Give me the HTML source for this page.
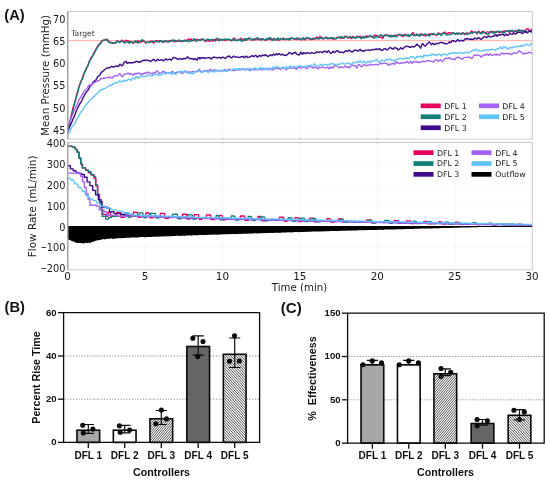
<!DOCTYPE html>
<html lang="en"><head><meta charset="utf-8"><title>Figure</title>
<style>html,body{margin:0;padding:0;background:#fff}body{width:550px;height:483px;overflow:hidden}svg{display:block}</style></head>
<body>
<svg width="550" height="483" viewBox="0 0 550 483">
<defs>
<clipPath id="ct"><rect x="67.8" y="11.5" width="465.1" height="127.5"/></clipPath>
<clipPath id="cb"><rect x="67.8" y="142.5" width="465.1" height="127.3"/></clipPath>
</defs>
<rect width="550" height="483" fill="#fff"/>
<line x1="145.2" y1="11.5" x2="145.2" y2="139.0" stroke="#f3f3f3" stroke-width="0.8"/>
<line x1="145.2" y1="142.5" x2="145.2" y2="269.8" stroke="#f3f3f3" stroke-width="0.8"/>
<line x1="222.6" y1="11.5" x2="222.6" y2="139.0" stroke="#f3f3f3" stroke-width="0.8"/>
<line x1="222.6" y1="142.5" x2="222.6" y2="269.8" stroke="#f3f3f3" stroke-width="0.8"/>
<line x1="300.0" y1="11.5" x2="300.0" y2="139.0" stroke="#f3f3f3" stroke-width="0.8"/>
<line x1="300.0" y1="142.5" x2="300.0" y2="269.8" stroke="#f3f3f3" stroke-width="0.8"/>
<line x1="377.5" y1="11.5" x2="377.5" y2="139.0" stroke="#f3f3f3" stroke-width="0.8"/>
<line x1="377.5" y1="142.5" x2="377.5" y2="269.8" stroke="#f3f3f3" stroke-width="0.8"/>
<line x1="454.9" y1="11.5" x2="454.9" y2="139.0" stroke="#f3f3f3" stroke-width="0.8"/>
<line x1="454.9" y1="142.5" x2="454.9" y2="269.8" stroke="#f3f3f3" stroke-width="0.8"/>
<line x1="67.8" y1="129.8" x2="532.3" y2="129.8" stroke="#f6f6f6" stroke-width="0.8"/>
<line x1="67.8" y1="107.5" x2="532.3" y2="107.5" stroke="#f6f6f6" stroke-width="0.8"/>
<line x1="67.8" y1="85.2" x2="532.3" y2="85.2" stroke="#f6f6f6" stroke-width="0.8"/>
<line x1="67.8" y1="62.9" x2="532.3" y2="62.9" stroke="#f6f6f6" stroke-width="0.8"/>
<line x1="67.8" y1="18.3" x2="532.3" y2="18.3" stroke="#f6f6f6" stroke-width="0.8"/>
<line x1="67.8" y1="247.3" x2="532.3" y2="247.3" stroke="#f6f6f6" stroke-width="0.8"/>
<line x1="67.8" y1="205.5" x2="532.3" y2="205.5" stroke="#f6f6f6" stroke-width="0.8"/>
<line x1="67.8" y1="184.6" x2="532.3" y2="184.6" stroke="#f6f6f6" stroke-width="0.8"/>
<line x1="67.8" y1="163.7" x2="532.3" y2="163.7" stroke="#f6f6f6" stroke-width="0.8"/>
<line x1="67.8" y1="40.6" x2="532.3" y2="40.6" stroke="#ff9c96" stroke-width="0.8"/>
<g clip-path="url(#ct)"><polyline points="67.5,131.9 68.4,127.6 69.3,124.0 70.2,120.0 71.1,116.0 72.0,112.5 72.9,108.1 73.8,105.1 74.7,102.5 75.6,98.8 76.5,95.3 77.4,92.4 78.3,89.1 79.2,86.0 80.1,83.3 81.0,81.2 81.9,79.3 82.8,76.9 83.7,74.0 84.6,72.1 85.5,70.6 86.4,68.1 87.3,66.6 88.2,64.8 89.1,61.8 90.0,59.7 90.9,57.8 91.8,56.6 92.7,55.5 93.6,53.4 94.5,52.2 95.4,50.3 96.3,48.7 97.2,47.2 98.1,45.4 99.0,44.3 99.9,43.5 100.8,43.3 101.7,41.9 102.6,40.8 103.5,40.1 104.4,39.9 105.3,39.9 106.2,39.3 107.1,39.1 108.0,40.2 108.9,42.3 109.8,42.7 110.7,42.1 111.6,43.0 112.5,43.5 113.4,42.9 114.3,43.0 115.2,42.6 116.1,42.0 117.0,41.0 117.9,41.1 118.8,41.7 119.7,42.1 120.6,41.9 121.5,40.2 122.4,40.4 123.3,42.3 124.2,42.2 125.1,40.9 126.0,40.5 126.9,40.5 127.8,41.0 128.7,41.0 129.6,41.9 130.5,42.4 131.4,41.7 132.3,42.6 133.2,43.3 134.1,42.4 135.0,41.8 135.9,42.3 136.8,42.0 137.7,40.7 138.6,41.1 139.5,42.5 140.4,42.3 141.3,41.4 142.2,41.0 143.1,41.2 144.0,41.1 144.9,42.1 145.8,43.1 146.7,42.7 147.6,42.2 148.5,42.2 149.4,41.9 150.3,41.5 151.2,41.1 152.1,41.1 153.0,42.6 153.9,43.1 154.8,41.7 155.7,41.0 156.6,40.7 157.5,41.1 158.4,41.7 159.3,40.8 160.2,40.8 161.1,41.2 162.0,41.7 162.9,42.1 163.8,42.2 164.7,41.9 165.6,40.8 166.5,41.2 167.4,41.8 168.3,42.0 169.2,40.7 170.1,40.5 171.0,41.2 171.9,40.8 172.8,40.4 173.7,41.6 174.6,41.7 175.5,40.3 176.4,40.8 177.3,41.3 178.2,40.9 179.1,41.2 180.0,41.5 180.9,41.3 181.8,41.5 182.7,41.4 183.6,40.6 184.5,40.2 185.4,40.2 186.3,40.5 187.2,40.2 188.1,39.1 189.0,39.7 189.9,39.9 190.8,38.8 191.7,39.7 192.6,40.4 193.5,40.4 194.4,40.5 195.3,39.6 196.2,39.2 197.1,39.5 198.0,40.0 198.9,39.8 199.8,39.8 200.7,39.4 201.6,39.5 202.5,39.3 203.4,39.2 204.3,40.5 205.2,41.2 206.1,41.7 207.0,40.3 207.9,39.7 208.8,41.2 209.7,41.2 210.6,40.1 211.5,39.8 212.4,41.3 213.3,40.2 214.2,39.5 215.1,40.9 216.0,40.2 216.9,39.9 217.8,39.7 218.7,39.0 219.6,39.1 220.5,39.6 221.4,40.0 222.3,40.4 223.2,39.9 224.1,39.3 225.0,40.3 225.9,40.7 226.8,39.4 227.7,39.5 228.6,39.9 229.5,39.8 230.4,40.1 231.3,40.6 232.2,40.5 233.1,38.8 234.0,38.0 234.9,39.4 235.8,40.0 236.7,40.2 237.6,40.4 238.5,39.4 239.4,39.8 240.3,39.8 241.2,38.1 242.1,39.6 243.0,39.7 243.9,38.9 244.8,40.4 245.7,40.1 246.6,38.7 247.5,39.2 248.4,39.3 249.3,38.0 250.2,38.6 251.1,39.7 252.0,40.0 252.9,40.0 253.8,39.6 254.7,39.1 255.6,38.7 256.5,38.6 257.4,39.5 258.3,39.5 259.2,39.5 260.1,39.3 261.0,38.7 261.9,39.0 262.8,39.2 263.7,39.5 264.6,39.7 265.5,40.3 266.4,40.1 267.3,39.0 268.2,38.6 269.1,38.7 270.0,39.6 270.9,39.2 271.8,38.8 272.7,39.5 273.6,39.5 274.5,38.8 275.4,39.4 276.3,39.7 277.2,39.4 278.1,39.9 279.0,40.3 279.9,39.5 280.8,38.6 281.7,38.9 282.6,39.1 283.5,38.0 284.4,38.7 285.3,39.7 286.2,39.4 287.1,38.7 288.0,39.0 288.9,39.3 289.8,38.6 290.7,38.1 291.6,38.1 292.5,38.7 293.4,38.7 294.3,39.0 295.2,39.1 296.1,39.4 297.0,39.1 297.9,38.0 298.8,38.3 299.7,39.1 300.6,39.8 301.5,39.8 302.4,38.2 303.3,38.0 304.2,39.7 305.1,39.5 306.0,38.5 306.9,38.6 307.8,38.6 308.7,38.7 309.6,39.0 310.5,39.4 311.4,39.6 312.3,38.5 313.2,38.5 314.1,39.4 315.0,38.8 315.9,38.0 316.8,37.1 317.7,37.8 318.6,38.7 319.5,37.1 320.4,36.4 321.3,37.4 322.2,38.7 323.1,38.7 324.0,38.5 324.9,38.0 325.8,37.0 326.7,38.0 327.6,38.9 328.5,38.4 329.4,38.8 330.3,38.3 331.2,37.4 332.1,38.4 333.0,39.5 333.9,39.0 334.8,38.8 335.7,38.5 336.6,37.7 337.5,37.9 338.4,36.9 339.3,37.1 340.2,38.4 341.1,38.1 342.0,37.6 342.9,38.4 343.8,37.7 344.7,36.2 345.6,36.4 346.5,36.6 347.4,37.6 348.3,38.3 349.2,37.1 350.1,36.6 351.0,38.6 351.9,38.5 352.8,36.6 353.7,37.0 354.6,37.7 355.5,37.7 356.4,36.8 357.3,36.1 358.2,36.8 359.1,37.4 360.0,36.2 360.9,36.8 361.8,38.0 362.7,37.2 363.6,36.7 364.5,36.9 365.4,36.6 366.3,35.8 367.2,36.3 368.1,36.2 369.0,36.2 369.9,36.1 370.8,35.9 371.7,36.5 372.6,37.5 373.5,36.9 374.4,35.2 375.3,35.4 376.2,35.5 377.1,35.5 378.0,36.3 378.9,37.0 379.8,37.6 380.7,36.8 381.6,37.3 382.5,38.7 383.4,37.1 384.3,34.9 385.2,34.9 386.1,36.1 387.0,34.9 387.9,34.9 388.8,35.9 389.7,35.4 390.6,35.9 391.5,36.8 392.4,36.1 393.3,35.7 394.2,35.6 395.1,35.0 396.0,35.4 396.9,36.0 397.8,35.6 398.7,34.2 399.6,34.7 400.5,35.0 401.4,34.8 402.3,36.5 403.2,36.4 404.1,34.8 405.0,34.0 405.9,35.2 406.8,35.9 407.7,35.6 408.6,36.0 409.5,35.7 410.4,35.0 411.3,34.5 412.2,33.0 413.1,32.7 414.0,34.2 414.9,34.9 415.8,35.1 416.7,35.1 417.6,35.0 418.5,35.4 419.4,34.8 420.3,34.2 421.2,33.8 422.1,34.4 423.0,35.3 423.9,35.0 424.8,35.7 425.7,36.0 426.6,35.1 427.5,35.0 428.4,34.2 429.3,34.0 430.2,34.8 431.1,33.7 432.0,34.3 432.9,34.7 433.8,34.3 434.7,34.4 435.6,34.6 436.5,35.4 437.4,34.5 438.3,32.9 439.2,33.3 440.1,34.5 441.0,34.3 441.9,33.5 442.8,33.9 443.7,32.8 444.6,32.1 445.5,32.8 446.4,33.3 447.3,33.6 448.2,32.8 449.1,33.0 450.0,32.8 450.9,32.9 451.8,33.3 452.7,33.1 453.6,33.0 454.5,33.6 455.4,33.9 456.3,33.7 457.2,34.0 458.1,33.2 459.0,33.2 459.9,33.8 460.8,33.6 461.7,33.2 462.6,32.8 463.5,33.4 464.4,34.7 465.3,33.8 466.2,32.9 467.1,33.1 468.0,33.2 468.9,33.6 469.8,33.7 470.7,32.0 471.6,31.1 472.5,32.0 473.4,32.2 474.3,32.3 475.2,32.0 476.1,32.7 477.0,34.0 477.9,32.2 478.8,31.0 479.7,32.6 480.6,32.7 481.5,32.3 482.4,31.6 483.3,31.2 484.2,32.3 485.1,33.3 486.0,32.9 486.9,31.9 487.8,31.9 488.7,32.1 489.6,32.3 490.5,32.5 491.4,31.9 492.3,31.9 493.2,31.5 494.1,31.8 495.0,33.0 495.9,31.9 496.8,31.5 497.7,31.6 498.6,31.9 499.5,32.8 500.4,32.1 501.3,32.1 502.2,32.0 503.1,31.1 504.0,31.0 504.9,31.2 505.8,31.3 506.7,31.4 507.6,31.2 508.5,31.5 509.4,32.3 510.3,31.6 511.2,30.3 512.1,30.9 513.0,32.2 513.9,31.7 514.8,30.4 515.7,30.6 516.6,32.0 517.5,30.8 518.4,30.2 519.3,31.0 520.2,30.3 521.1,30.7 522.0,30.4 522.9,30.3 523.8,31.6 524.7,31.5 525.6,30.3 526.5,29.2 527.4,29.0 528.3,28.9 529.2,30.4 530.1,31.2 531.0,29.8 531.9,29.2" fill="none" stroke="#e8005f" stroke-width="1.4" stroke-linejoin="round" /><polyline points="67.8,131.0 68.7,127.8 69.6,124.2 70.5,119.6 71.4,116.1 72.3,113.0 73.2,109.4 74.1,105.5 75.0,102.0 75.9,98.9 76.8,95.7 77.7,92.5 78.6,88.8 79.5,85.5 80.4,83.5 81.3,81.2 82.2,79.1 83.1,77.1 84.0,74.1 84.9,71.7 85.8,69.9 86.7,67.9 87.6,66.4 88.5,64.0 89.4,61.3 90.3,59.8 91.2,58.6 92.1,56.9 93.0,55.5 93.9,53.8 94.8,52.3 95.7,50.5 96.6,48.7 97.5,47.4 98.4,45.7 99.3,44.7 100.2,43.8 101.1,41.9 102.0,40.6 102.9,40.4 103.8,40.3 104.7,39.9 105.6,39.7 106.5,39.6 107.4,40.7 108.3,41.9 109.2,41.8 110.1,42.3 111.0,42.8 111.9,43.0 112.8,42.7 113.7,42.9 114.6,43.2 115.5,43.1 116.4,42.4 117.3,41.2 118.2,41.6 119.1,42.5 120.0,42.2 120.9,41.1 121.8,41.0 122.7,41.1 123.6,42.2 124.5,43.0 125.4,42.7 126.3,42.4 127.2,41.5 128.1,42.0 129.0,43.2 129.9,43.0 130.8,42.1 131.7,42.3 132.6,42.1 133.5,42.0 134.4,41.8 135.3,40.8 136.2,41.5 137.1,42.2 138.0,42.9 138.9,42.5 139.8,41.5 140.7,41.1 141.6,40.1 142.5,39.7 143.4,40.9 144.3,41.2 145.2,41.6 146.1,42.9 147.0,42.2 147.9,42.3 148.8,42.5 149.7,42.2 150.6,42.0 151.5,41.9 152.4,41.5 153.3,41.3 154.2,41.5 155.1,41.1 156.0,41.7 156.9,41.8 157.8,41.4 158.7,41.7 159.6,42.1 160.5,41.0 161.4,40.8 162.3,41.9 163.2,41.2 164.1,41.0 165.0,40.7 165.9,41.2 166.8,41.8 167.7,41.0 168.6,41.7 169.5,41.6 170.4,41.3 171.3,40.8 172.2,40.2 173.1,40.0 174.0,40.1 174.9,41.4 175.8,41.6 176.7,41.5 177.6,40.8 178.5,39.9 179.4,40.1 180.3,40.9 181.2,41.3 182.1,41.0 183.0,41.1 183.9,41.0 184.8,40.6 185.7,41.4 186.6,41.1 187.5,40.4 188.4,41.6 189.3,41.5 190.2,41.0 191.1,40.6 192.0,41.3 192.9,40.4 193.8,38.7 194.7,39.3 195.6,40.8 196.5,41.5 197.4,40.5 198.3,39.6 199.2,39.9 200.1,40.6 201.0,40.0 201.9,39.2 202.8,38.9 203.7,39.8 204.6,40.5 205.5,40.4 206.4,40.1 207.3,39.2 208.2,39.2 209.1,39.6 210.0,39.6 210.9,40.4 211.8,40.0 212.7,39.2 213.6,40.0 214.5,40.7 215.4,39.9 216.3,38.1 217.2,38.4 218.1,40.3 219.0,40.9 219.9,40.2 220.8,39.2 221.7,39.4 222.6,40.1 223.5,39.7 224.4,39.2 225.3,39.3 226.2,39.5 227.1,39.2 228.0,39.2 228.9,39.8 229.8,39.4 230.7,39.9 231.6,40.7 232.5,39.5 233.4,39.4 234.3,40.6 235.2,39.9 236.1,40.3 237.0,40.5 237.9,40.5 238.8,40.0 239.7,38.9 240.6,39.8 241.5,41.4 242.4,41.1 243.3,40.4 244.2,39.8 245.1,38.6 246.0,38.7 246.9,40.2 247.8,39.3 248.7,38.3 249.6,38.2 250.5,38.5 251.4,40.0 252.3,39.3 253.2,38.6 254.1,39.9 255.0,40.1 255.9,38.7 256.8,38.1 257.7,37.6 258.6,38.7 259.5,39.4 260.4,39.5 261.3,40.3 262.2,39.4 263.1,38.7 264.0,39.4 264.9,39.8 265.8,39.5 266.7,38.5 267.6,38.9 268.5,39.2 269.4,37.6 270.3,37.7 271.2,39.1 272.1,40.5 273.0,40.1 273.9,38.3 274.8,39.6 275.7,40.3 276.6,39.1 277.5,38.4 278.4,38.0 279.3,39.3 280.2,39.7 281.1,38.6 282.0,38.5 282.9,39.6 283.8,39.5 284.7,39.0 285.6,39.5 286.5,39.2 287.4,38.6 288.3,38.8 289.2,40.1 290.1,39.7 291.0,38.4 291.9,37.7 292.8,38.3 293.7,38.8 294.6,38.7 295.5,38.8 296.4,38.1 297.3,38.5 298.2,39.3 299.1,38.9 300.0,38.9 300.9,39.4 301.8,39.3 302.7,38.3 303.6,38.9 304.5,39.1 305.4,38.1 306.3,37.5 307.2,37.9 308.1,38.1 309.0,37.8 309.9,38.6 310.8,38.9 311.7,39.2 312.6,39.3 313.5,38.5 314.4,38.2 315.3,38.1 316.2,38.6 317.1,38.9 318.0,38.3 318.9,38.7 319.8,39.0 320.7,38.3 321.6,37.4 322.5,37.8 323.4,38.7 324.3,38.5 325.2,38.1 326.1,37.6 327.0,37.7 327.9,38.2 328.8,38.2 329.7,38.0 330.6,37.8 331.5,38.0 332.4,38.4 333.3,37.7 334.2,38.0 335.1,38.8 336.0,38.8 336.9,38.3 337.8,37.7 338.7,37.1 339.6,37.6 340.5,37.0 341.4,36.4 342.3,37.3 343.2,37.9 344.1,38.1 345.0,37.1 345.9,36.3 346.8,36.4 347.7,37.2 348.6,37.6 349.5,37.4 350.4,36.9 351.3,36.9 352.2,37.8 353.1,37.3 354.0,36.7 354.9,38.1 355.8,38.4 356.7,37.2 357.6,37.3 358.5,37.1 359.4,36.7 360.3,37.9 361.2,38.8 362.1,37.1 363.0,36.4 363.9,38.3 364.8,37.6 365.7,36.7 366.6,37.7 367.5,37.3 368.4,36.7 369.3,36.9 370.2,35.7 371.1,35.8 372.0,36.7 372.9,37.0 373.8,38.1 374.7,38.0 375.6,36.7 376.5,36.5 377.4,36.8 378.3,37.0 379.2,36.1 380.1,35.0 381.0,34.6 381.9,35.5 382.8,36.5 383.7,35.9 384.6,35.4 385.5,35.5 386.4,35.3 387.3,35.4 388.2,35.6 389.1,36.5 390.0,36.9 390.9,35.7 391.8,35.2 392.7,36.2 393.6,36.7 394.5,36.2 395.4,36.3 396.3,36.9 397.2,35.9 398.1,34.6 399.0,34.3 399.9,34.9 400.8,35.6 401.7,35.0 402.6,34.8 403.5,35.4 404.4,35.7 405.3,35.1 406.2,35.8 407.1,35.4 408.0,34.1 408.9,36.0 409.8,36.4 410.7,34.7 411.6,34.5 412.5,34.7 413.4,35.4 414.3,35.9 415.2,35.7 416.1,35.1 417.0,34.0 417.9,34.3 418.8,35.9 419.7,36.2 420.6,35.3 421.5,35.1 422.4,35.0 423.3,34.5 424.2,34.0 425.1,33.9 426.0,34.6 426.9,34.6 427.8,34.9 428.7,35.9 429.6,36.2 430.5,35.0 431.4,33.9 432.3,33.7 433.2,33.5 434.1,33.8 435.0,34.5 435.9,34.6 436.8,34.4 437.7,34.4 438.6,34.2 439.5,33.7 440.4,34.6 441.3,35.5 442.2,34.1 443.1,33.0 444.0,33.2 444.9,33.6 445.8,34.6 446.7,35.0 447.6,34.9 448.5,34.9 449.4,34.9 450.3,34.7 451.2,34.3 452.1,33.8 453.0,32.6 453.9,32.6 454.8,34.4 455.7,34.2 456.6,32.9 457.5,33.6 458.4,34.0 459.3,33.2 460.2,33.9 461.1,34.4 462.0,34.0 462.9,33.3 463.8,33.2 464.7,33.6 465.6,33.7 466.5,34.1 467.4,34.3 468.3,33.7 469.2,33.4 470.1,32.7 471.0,32.7 471.9,33.6 472.8,33.0 473.7,32.2 474.6,32.3 475.5,32.1 476.4,32.3 477.3,33.0 478.2,32.3 479.1,32.1 480.0,33.2 480.9,33.7 481.8,33.6 482.7,32.9 483.6,32.2 484.5,32.0 485.4,32.5 486.3,33.9 487.2,34.3 488.1,33.8 489.0,33.8 489.9,32.1 490.8,31.2 491.7,31.8 492.6,32.5 493.5,33.6 494.4,32.6 495.3,31.7 496.2,32.3 497.1,31.9 498.0,31.3 498.9,31.2 499.8,31.9 500.7,31.8 501.6,31.8 502.5,32.3 503.4,32.1 504.3,32.8 505.2,32.0 506.1,30.8 507.0,31.3 507.9,31.1 508.8,30.5 509.7,30.9 510.6,31.4 511.5,30.7 512.4,30.4 513.3,31.3 514.2,32.2 515.1,30.8 516.0,30.8 516.9,32.2 517.8,30.9 518.7,29.6 519.6,30.4 520.5,30.9 521.4,30.7 522.3,31.3 523.2,31.0 524.1,30.6 525.0,31.0 525.9,31.4 526.8,32.0 527.7,32.4 528.6,31.6 529.5,30.5 530.4,31.6 531.3,32.0 532.2,31.0" fill="none" stroke="#0f7f7a" stroke-width="1.4" stroke-linejoin="round" /><polyline points="67.8,131.6 68.7,129.2 69.6,127.0 70.5,124.9 71.4,123.2 72.3,120.9 73.2,118.6 74.1,116.9 75.0,114.6 75.9,112.1 76.8,110.1 77.7,107.9 78.6,106.2 79.5,104.4 80.4,102.8 81.3,101.7 82.2,99.5 83.1,97.6 84.0,96.2 84.9,94.3 85.8,92.9 86.7,91.7 87.6,90.6 88.5,89.5 89.4,87.5 90.3,85.7 91.2,85.0 92.1,84.4 93.0,82.5 93.9,81.4 94.8,81.0 95.7,80.0 96.6,78.8 97.5,77.1 98.4,76.2 99.3,75.7 100.2,74.6 101.1,72.6 102.0,71.8 102.9,71.4 103.8,70.3 104.7,69.8 105.6,69.0 106.5,68.3 107.4,68.0 108.3,67.8 109.2,67.8 110.1,67.6 111.0,66.6 111.9,66.3 112.8,67.0 113.7,67.1 114.6,66.4 115.5,66.1 116.4,66.2 117.3,66.3 118.2,66.5 119.1,65.5 120.0,64.2 120.9,64.9 121.8,65.7 122.7,65.5 123.6,63.3 124.5,62.2 125.4,61.5 126.3,61.8 127.2,63.4 128.1,62.8 129.0,62.5 129.9,63.0 130.8,62.8 131.7,62.6 132.6,62.9 133.5,62.5 134.4,62.3 135.3,62.1 136.2,61.2 137.1,61.4 138.0,62.3 138.9,61.8 139.8,61.7 140.7,62.2 141.6,61.0 142.5,60.4 143.4,60.7 144.3,60.2 145.2,60.5 146.1,60.4 147.0,59.9 147.9,60.4 148.8,60.7 149.7,60.6 150.6,61.5 151.5,61.0 152.4,59.9 153.3,59.5 154.2,59.5 155.1,60.8 156.0,61.1 156.9,60.1 157.8,59.3 158.7,60.3 159.6,60.4 160.5,60.2 161.4,59.7 162.3,59.9 163.2,60.9 164.1,60.4 165.0,59.4 165.9,59.0 166.8,59.5 167.7,59.7 168.6,59.5 169.5,59.2 170.4,59.4 171.3,60.2 172.2,59.0 173.1,57.5 174.0,57.7 174.9,58.1 175.8,57.9 176.7,58.5 177.6,59.5 178.5,59.0 179.4,58.6 180.3,58.8 181.2,59.2 182.1,59.2 183.0,58.7 183.9,58.8 184.8,58.4 185.7,58.7 186.6,57.8 187.5,56.8 188.4,57.8 189.3,58.5 190.2,58.3 191.1,58.8 192.0,58.7 192.9,58.8 193.8,59.8 194.7,58.7 195.6,58.7 196.5,59.8 197.4,60.0 198.3,57.6 199.2,57.7 200.1,59.0 201.0,57.5 201.9,57.8 202.8,58.0 203.7,57.6 204.6,58.4 205.5,57.9 206.4,58.1 207.3,57.9 208.2,57.6 209.1,57.8 210.0,57.6 210.9,58.9 211.8,59.0 212.7,57.4 213.6,57.2 214.5,57.3 215.4,57.4 216.3,57.8 217.2,57.8 218.1,57.7 219.0,57.4 219.9,57.5 220.8,58.3 221.7,57.7 222.6,57.1 223.5,57.4 224.4,58.0 225.3,58.5 226.2,57.5 227.1,56.9 228.0,56.4 228.9,55.9 229.8,56.6 230.7,57.4 231.6,57.9 232.5,57.3 233.4,56.1 234.3,56.4 235.2,57.0 236.1,57.0 237.0,57.1 237.9,57.2 238.8,57.4 239.7,57.5 240.6,56.8 241.5,56.9 242.4,56.8 243.3,56.3 244.2,57.5 245.1,57.6 246.0,56.0 246.9,56.5 247.8,57.6 248.7,57.4 249.6,56.9 250.5,56.5 251.4,56.2 252.3,55.6 253.2,56.5 254.1,56.6 255.0,55.5 255.9,55.4 256.8,56.6 257.7,57.2 258.6,56.0 259.5,55.5 260.4,55.9 261.3,56.3 262.2,55.2 263.1,55.1 264.0,55.8 264.9,55.0 265.8,54.8 266.7,55.5 267.6,56.6 268.5,56.2 269.4,55.6 270.3,55.0 271.2,54.9 272.1,55.7 273.0,54.7 273.9,53.9 274.8,55.1 275.7,54.4 276.6,53.7 277.5,54.9 278.4,54.2 279.3,53.6 280.2,54.5 281.1,55.1 282.0,54.3 282.9,54.4 283.8,55.2 284.7,55.2 285.6,55.6 286.5,55.1 287.4,54.7 288.3,53.6 289.2,52.5 290.1,52.9 291.0,53.4 291.9,54.3 292.8,53.5 293.7,52.8 294.6,53.0 295.5,52.3 296.4,53.7 297.3,54.6 298.2,54.6 299.1,55.1 300.0,53.7 300.9,52.1 301.8,53.6 302.7,54.3 303.6,52.6 304.5,53.1 305.4,53.7 306.3,52.9 307.2,52.6 308.1,53.0 309.0,53.1 309.9,53.4 310.8,53.1 311.7,52.5 312.6,52.9 313.5,53.2 314.4,53.4 315.3,53.0 316.2,52.4 317.1,51.8 318.0,52.6 318.9,52.4 319.8,51.7 320.7,51.9 321.6,52.0 322.5,52.8 323.4,51.7 324.3,51.2 325.2,51.1 326.1,51.9 327.0,52.6 327.9,51.0 328.8,50.8 329.7,52.3 330.6,53.4 331.5,53.3 332.4,52.1 333.3,51.3 334.2,52.6 335.1,52.2 336.0,51.2 336.9,51.0 337.8,50.6 338.7,51.7 339.6,52.6 340.5,52.1 341.4,52.1 342.3,52.3 343.2,52.8 344.1,52.2 345.0,51.2 345.9,50.6 346.8,51.4 347.7,51.6 348.6,50.2 349.5,50.3 350.4,51.1 351.3,51.6 352.2,52.1 353.1,51.2 354.0,50.2 354.9,50.4 355.8,50.2 356.7,50.2 357.6,51.1 358.5,51.1 359.4,50.0 360.3,49.3 361.2,50.8 362.1,50.9 363.0,50.5 363.9,51.4 364.8,50.8 365.7,49.9 366.6,50.1 367.5,50.1 368.4,49.9 369.3,50.4 370.2,50.1 371.1,49.9 372.0,50.0 372.9,49.5 373.8,49.5 374.7,49.8 375.6,48.9 376.5,48.9 377.4,49.6 378.3,49.4 379.2,48.4 380.1,49.0 381.0,50.4 381.9,50.3 382.8,50.0 383.7,48.9 384.6,48.7 385.5,48.8 386.4,49.8 387.3,49.9 388.2,49.0 389.1,48.4 390.0,47.4 390.9,47.8 391.8,48.7 392.7,49.2 393.6,48.9 394.5,47.5 395.4,47.9 396.3,48.3 397.2,48.5 398.1,49.9 399.0,49.4 399.9,48.8 400.8,47.6 401.7,48.4 402.6,49.1 403.5,48.1 404.4,47.4 405.3,46.7 406.2,46.4 407.1,46.1 408.0,46.6 408.9,46.7 409.8,47.3 410.7,47.3 411.6,46.6 412.5,46.3 413.4,47.1 414.3,46.7 415.2,46.1 416.1,45.3 417.0,44.1 417.9,45.3 418.8,45.6 419.7,46.8 420.6,48.2 421.5,45.7 422.4,43.7 423.3,44.3 424.2,45.7 425.1,46.2 426.0,45.4 426.9,44.0 427.8,43.3 428.7,42.5 429.6,42.0 430.5,43.6 431.4,44.7 432.3,43.6 433.2,43.2 434.1,44.6 435.0,44.5 435.9,43.4 436.8,43.5 437.7,43.8 438.6,43.4 439.5,42.8 440.4,42.4 441.3,42.6 442.2,42.4 443.1,42.9 444.0,43.6 444.9,43.3 445.8,43.8 446.7,44.0 447.6,43.5 448.5,42.8 449.4,41.8 450.3,42.7 451.2,42.3 452.1,40.7 453.0,40.5 453.9,40.8 454.8,41.4 455.7,41.7 456.6,41.2 457.5,39.7 458.4,39.9 459.3,41.2 460.2,40.9 461.1,40.2 462.0,40.4 462.9,41.1 463.8,40.7 464.7,39.1 465.6,38.7 466.5,39.2 467.4,38.5 468.3,38.9 469.2,39.3 470.1,39.1 471.0,39.5 471.9,38.9 472.8,39.6 473.7,39.3 474.6,38.0 475.5,38.3 476.4,39.0 477.3,38.8 478.2,37.7 479.1,38.0 480.0,38.7 480.9,39.3 481.8,38.8 482.7,37.7 483.6,37.4 484.5,36.4 485.4,36.6 486.3,37.7 487.2,37.1 488.1,36.2 489.0,36.0 489.9,36.9 490.8,37.1 491.7,36.6 492.6,36.4 493.5,36.0 494.4,36.0 495.3,34.6 496.2,34.9 497.1,36.3 498.0,35.0 498.9,34.6 499.8,35.3 500.7,34.7 501.6,34.7 502.5,34.2 503.4,34.3 504.3,35.8 505.2,34.9 506.1,34.1 507.0,35.4 507.9,35.4 508.8,34.3 509.7,33.6 510.6,33.9 511.5,34.1 512.4,34.3 513.3,33.4 514.2,33.5 515.1,34.0 516.0,33.7 516.9,33.4 517.8,32.2 518.7,32.2 519.6,32.3 520.5,32.2 521.4,32.9 522.3,33.6 523.2,33.2 524.1,32.2 525.0,31.7 525.9,32.2 526.8,32.9 527.7,32.3 528.6,31.5 529.5,31.1 530.4,31.2 531.3,31.9 532.2,30.2" fill="none" stroke="#3f0a8c" stroke-width="1.4" stroke-linejoin="round" /><polyline points="67.8,126.7 68.7,124.5 69.6,122.6 70.5,120.1 71.4,117.3 72.3,115.3 73.2,113.2 74.1,110.4 75.0,108.8 75.9,107.1 76.8,105.0 77.7,103.1 78.6,100.3 79.5,98.8 80.4,97.8 81.3,96.0 82.2,94.9 83.1,93.2 84.0,91.6 84.9,90.6 85.8,89.6 86.7,88.6 87.6,87.3 88.5,85.9 89.4,85.2 90.3,84.7 91.2,85.4 92.1,84.8 93.0,83.2 93.9,82.6 94.8,82.4 95.7,82.1 96.6,81.0 97.5,80.7 98.4,80.7 99.3,80.3 100.2,79.4 101.1,78.3 102.0,78.7 102.9,78.4 103.8,78.0 104.7,78.4 105.6,78.1 106.5,77.9 107.4,77.7 108.3,77.5 109.2,77.1 110.1,76.8 111.0,77.9 111.9,78.2 112.8,77.2 113.7,76.7 114.6,76.0 115.5,75.7 116.4,75.8 117.3,75.9 118.2,75.4 119.1,73.7 120.0,73.7 120.9,75.1 121.8,76.5 122.7,76.6 123.6,74.8 124.5,74.1 125.4,74.0 126.3,73.9 127.2,73.8 128.1,73.0 129.0,73.5 129.9,74.4 130.8,74.0 131.7,74.0 132.6,75.1 133.5,75.0 134.4,73.7 135.3,74.1 136.2,73.4 137.1,73.3 138.0,73.7 138.9,72.9 139.8,73.3 140.7,74.5 141.6,74.1 142.5,73.7 143.4,74.2 144.3,73.0 145.2,73.2 146.1,73.5 147.0,72.2 147.9,72.2 148.8,72.6 149.7,73.2 150.6,73.2 151.5,73.6 152.4,74.0 153.3,72.9 154.2,72.3 155.1,72.8 156.0,72.1 156.9,70.9 157.8,71.4 158.7,72.8 159.6,73.3 160.5,72.9 161.4,72.7 162.3,71.6 163.2,71.5 164.1,71.6 165.0,72.2 165.9,73.0 166.8,72.5 167.7,72.7 168.6,72.9 169.5,72.7 170.4,72.7 171.3,72.3 172.2,71.4 173.1,71.8 174.0,73.2 174.9,73.5 175.8,72.6 176.7,72.4 177.6,72.2 178.5,72.1 179.4,72.0 180.3,71.8 181.2,73.1 182.1,73.4 183.0,73.1 183.9,72.3 184.8,71.2 185.7,71.5 186.6,72.1 187.5,72.0 188.4,72.2 189.3,72.0 190.2,72.1 191.1,72.8 192.0,71.6 192.9,71.3 193.8,71.8 194.7,71.9 195.6,71.8 196.5,71.4 197.4,71.9 198.3,70.3 199.2,69.1 200.1,70.5 201.0,71.3 201.9,71.7 202.8,71.9 203.7,70.7 204.6,70.7 205.5,71.0 206.4,70.6 207.3,70.7 208.2,71.0 209.1,70.5 210.0,69.7 210.9,69.3 211.8,70.9 212.7,71.5 213.6,70.0 214.5,69.9 215.4,69.9 216.3,70.3 217.2,70.9 218.1,71.2 219.0,71.0 219.9,70.6 220.8,70.3 221.7,71.2 222.6,71.2 223.5,70.7 224.4,69.7 225.3,69.8 226.2,70.9 227.1,71.3 228.0,69.7 228.9,69.1 229.8,70.4 230.7,70.4 231.6,70.1 232.5,70.1 233.4,70.7 234.3,70.6 235.2,70.1 236.1,69.9 237.0,69.9 237.9,70.0 238.8,69.8 239.7,68.7 240.6,69.7 241.5,69.8 242.4,69.1 243.3,69.3 244.2,69.2 245.1,69.3 246.0,69.4 246.9,69.4 247.8,68.8 248.7,69.3 249.6,70.6 250.5,70.6 251.4,69.9 252.3,69.2 253.2,69.1 254.1,69.8 255.0,69.5 255.9,69.7 256.8,69.9 257.7,69.6 258.6,69.4 259.5,68.9 260.4,69.3 261.3,69.7 262.2,69.7 263.1,69.0 264.0,68.4 264.9,68.8 265.8,68.2 266.7,68.7 267.6,69.8 268.5,69.3 269.4,68.7 270.3,69.1 271.2,69.3 272.1,69.8 273.0,70.1 273.9,68.3 274.8,68.5 275.7,68.9 276.6,68.3 277.5,68.4 278.4,68.5 279.3,68.8 280.2,69.2 281.1,69.2 282.0,68.5 282.9,67.5 283.8,67.4 284.7,68.3 285.6,69.1 286.5,69.8 287.4,68.6 288.3,67.7 289.2,68.3 290.1,68.0 291.0,68.1 291.9,68.2 292.8,67.9 293.7,67.7 294.6,68.0 295.5,68.8 296.4,69.4 297.3,68.6 298.2,67.2 299.1,67.3 300.0,67.4 300.9,68.0 301.8,68.0 302.7,67.5 303.6,67.2 304.5,67.0 305.4,67.8 306.3,68.7 307.2,68.2 308.1,67.6 309.0,66.9 309.9,66.1 310.8,66.7 311.7,67.0 312.6,67.7 313.5,68.2 314.4,67.2 315.3,67.1 316.2,67.3 317.1,68.0 318.0,68.7 318.9,67.8 319.8,67.5 320.7,67.4 321.6,67.5 322.5,67.1 323.4,67.4 324.3,67.9 325.2,67.9 326.1,67.7 327.0,67.6 327.9,67.2 328.8,68.6 329.7,68.6 330.6,66.6 331.5,67.4 332.4,68.2 333.3,67.3 334.2,65.8 335.1,65.5 336.0,65.8 336.9,66.1 337.8,66.4 338.7,67.3 339.6,67.9 340.5,67.0 341.4,66.7 342.3,67.4 343.2,67.8 344.1,67.2 345.0,66.0 345.9,66.4 346.8,67.5 347.7,66.8 348.6,66.9 349.5,68.0 350.4,66.8 351.3,65.1 352.2,64.9 353.1,65.5 354.0,66.0 354.9,65.3 355.8,66.2 356.7,68.1 357.6,66.5 358.5,64.4 359.4,64.6 360.3,65.7 361.2,66.4 362.1,66.5 363.0,65.7 363.9,64.3 364.8,64.6 365.7,65.9 366.6,65.5 367.5,65.1 368.4,65.3 369.3,65.0 370.2,64.3 371.1,64.5 372.0,64.4 372.9,64.8 373.8,65.0 374.7,64.5 375.6,64.6 376.5,64.5 377.4,64.7 378.3,64.7 379.2,64.3 380.1,63.2 381.0,63.4 381.9,64.0 382.8,63.3 383.7,63.1 384.6,62.9 385.5,63.3 386.4,63.9 387.3,63.7 388.2,65.2 389.1,65.2 390.0,64.0 390.9,64.2 391.8,63.9 392.7,63.2 393.6,63.7 394.5,64.4 395.4,62.5 396.3,61.8 397.2,63.0 398.1,62.8 399.0,63.5 399.9,63.5 400.8,63.2 401.7,63.1 402.6,62.5 403.5,63.0 404.4,62.8 405.3,62.3 406.2,62.0 407.1,61.6 408.0,62.5 408.9,63.1 409.8,62.1 410.7,61.2 411.6,63.0 412.5,63.2 413.4,61.4 414.3,61.9 415.2,61.9 416.1,61.4 417.0,62.1 417.9,62.8 418.8,62.1 419.7,62.2 420.6,62.2 421.5,61.4 422.4,61.4 423.3,61.3 424.2,61.5 425.1,61.7 426.0,61.0 426.9,60.8 427.8,60.9 428.7,60.5 429.6,60.6 430.5,61.3 431.4,61.4 432.3,61.5 433.2,62.0 434.1,61.3 435.0,60.1 435.9,59.7 436.8,60.0 437.7,60.8 438.6,61.3 439.5,60.1 440.4,59.7 441.3,60.8 442.2,61.5 443.1,61.0 444.0,59.7 444.9,58.7 445.8,58.3 446.7,58.4 447.6,58.2 448.5,58.2 449.4,57.8 450.3,58.2 451.2,59.0 452.1,59.4 453.0,59.1 453.9,59.1 454.8,59.6 455.7,58.2 456.6,57.5 457.5,57.5 458.4,57.1 459.3,57.7 460.2,58.0 461.1,58.6 462.0,59.6 462.9,58.9 463.8,57.7 464.7,57.4 465.6,57.4 466.5,57.6 467.4,57.2 468.3,57.1 469.2,57.2 470.1,57.4 471.0,58.1 471.9,58.3 472.8,57.5 473.7,55.8 474.6,55.0 475.5,55.4 476.4,55.5 477.3,54.7 478.2,55.1 479.1,55.4 480.0,55.8 480.9,57.2 481.8,56.7 482.7,55.8 483.6,55.0 484.5,54.9 485.4,55.3 486.3,54.6 487.2,53.9 488.1,55.2 489.0,55.3 489.9,53.8 490.8,54.5 491.7,55.2 492.6,55.3 493.5,55.1 494.4,54.5 495.3,54.7 496.2,55.2 497.1,54.0 498.0,54.7 498.9,55.1 499.8,54.8 500.7,54.1 501.6,53.0 502.5,53.4 503.4,53.5 504.3,54.2 505.2,53.7 506.1,53.2 507.0,53.4 507.9,53.5 508.8,54.1 509.7,53.5 510.6,54.4 511.5,54.6 512.4,53.9 513.3,53.2 514.2,52.5 515.1,53.2 516.0,53.2 516.9,52.9 517.8,52.4 518.7,50.9 519.6,51.0 520.5,52.0 521.4,52.1 522.3,53.0 523.2,54.2 524.1,54.0 525.0,53.3 525.9,53.3 526.8,53.2 527.7,53.1 528.6,52.6 529.5,52.1 530.4,52.3 531.3,53.4 532.2,53.6" fill="none" stroke="#a561f6" stroke-width="1.38" stroke-linejoin="round" /><polyline points="67.8,133.9 68.7,133.7 69.6,132.3 70.5,130.3 71.4,128.1 72.3,126.4 73.2,125.3 74.1,125.0 75.0,123.5 75.9,120.9 76.8,119.3 77.7,117.9 78.6,116.3 79.5,114.7 80.4,112.8 81.3,111.4 82.2,110.5 83.1,109.3 84.0,108.0 84.9,106.2 85.8,105.1 86.7,104.3 87.6,103.0 88.5,102.3 89.4,101.1 90.3,99.8 91.2,99.1 92.1,98.3 93.0,97.4 93.9,96.7 94.8,95.7 95.7,94.3 96.6,94.1 97.5,93.5 98.4,92.3 99.3,91.5 100.2,90.1 101.1,89.5 102.0,89.5 102.9,89.3 103.8,88.8 104.7,88.4 105.6,88.2 106.5,87.8 107.4,87.0 108.3,86.3 109.2,85.8 110.1,85.1 111.0,85.4 111.9,84.9 112.8,83.9 113.7,84.1 114.6,82.9 115.5,82.7 116.4,83.1 117.3,82.5 118.2,82.2 119.1,81.0 120.0,81.0 120.9,81.6 121.8,81.8 122.7,81.7 123.6,80.1 124.5,80.2 125.4,81.2 126.3,80.8 127.2,80.5 128.1,79.5 129.0,79.3 129.9,79.2 130.8,80.2 131.7,80.1 132.6,77.9 133.5,77.7 134.4,78.8 135.3,78.5 136.2,76.3 137.1,77.2 138.0,78.4 138.9,77.2 139.8,77.2 140.7,76.8 141.6,75.7 142.5,76.5 143.4,76.7 144.3,76.3 145.2,76.5 146.1,76.5 147.0,76.4 147.9,74.8 148.8,75.0 149.7,75.6 150.6,75.6 151.5,75.7 152.4,75.9 153.3,75.6 154.2,73.8 155.1,73.7 156.0,74.9 156.9,74.8 157.8,74.3 158.7,75.1 159.6,75.2 160.5,74.9 161.4,75.0 162.3,73.6 163.2,73.0 164.1,73.5 165.0,74.1 165.9,73.7 166.8,72.8 167.7,72.6 168.6,73.0 169.5,73.0 170.4,72.9 171.3,74.2 172.2,74.5 173.1,73.1 174.0,72.9 174.9,74.0 175.8,74.3 176.7,73.4 177.6,72.3 178.5,71.4 179.4,71.9 180.3,72.6 181.2,71.9 182.1,71.3 183.0,72.0 183.9,71.5 184.8,70.6 185.7,71.6 186.6,72.7 187.5,72.8 188.4,73.0 189.3,73.6 190.2,73.4 191.1,72.5 192.0,73.0 192.9,73.9 193.8,73.3 194.7,72.0 195.6,71.7 196.5,71.0 197.4,70.5 198.3,70.3 199.2,70.2 200.1,71.9 201.0,72.1 201.9,72.3 202.8,72.2 203.7,71.4 204.6,71.2 205.5,71.4 206.4,71.5 207.3,71.8 208.2,72.6 209.1,72.1 210.0,70.7 210.9,70.7 211.8,71.9 212.7,71.9 213.6,71.4 214.5,71.5 215.4,71.9 216.3,70.1 217.2,70.2 218.1,71.8 219.0,71.3 219.9,70.6 220.8,70.4 221.7,70.9 222.6,70.1 223.5,70.1 224.4,70.8 225.3,71.1 226.2,71.4 227.1,70.5 228.0,70.2 228.9,70.6 229.8,70.6 230.7,70.5 231.6,70.0 232.5,69.1 233.4,69.1 234.3,69.0 235.2,68.8 236.1,69.7 237.0,69.2 237.9,68.4 238.8,69.5 239.7,69.8 240.6,69.4 241.5,69.0 242.4,68.5 243.3,68.9 244.2,70.2 245.1,70.5 246.0,68.8 246.9,68.8 247.8,70.0 248.7,70.1 249.6,69.0 250.5,68.6 251.4,70.2 252.3,69.7 253.2,68.8 254.1,68.8 255.0,68.0 255.9,68.1 256.8,69.2 257.7,69.9 258.6,68.9 259.5,68.1 260.4,68.0 261.3,67.1 262.2,67.8 263.1,69.6 264.0,70.0 264.9,68.9 265.8,68.8 266.7,69.5 267.6,68.7 268.5,68.1 269.4,68.0 270.3,68.1 271.2,69.1 272.1,68.5 273.0,66.9 273.9,67.8 274.8,68.3 275.7,66.9 276.6,66.3 277.5,66.8 278.4,67.0 279.3,67.5 280.2,68.2 281.1,67.9 282.0,67.5 282.9,67.1 283.8,67.5 284.7,68.5 285.6,67.8 286.5,66.7 287.4,67.8 288.3,68.6 289.2,67.1 290.1,65.7 291.0,66.0 291.9,67.4 292.8,67.2 293.7,66.4 294.6,66.4 295.5,66.8 296.4,67.7 297.3,66.7 298.2,65.8 299.1,66.3 300.0,66.1 300.9,65.5 301.8,66.2 302.7,66.8 303.6,66.7 304.5,67.3 305.4,66.7 306.3,66.1 307.2,66.0 308.1,65.7 309.0,66.0 309.9,65.9 310.8,64.9 311.7,65.7 312.6,66.4 313.5,65.0 314.4,63.8 315.3,64.3 316.2,65.7 317.1,66.1 318.0,66.3 318.9,65.5 319.8,65.2 320.7,64.6 321.6,64.3 322.5,65.5 323.4,65.0 324.3,64.4 325.2,64.7 326.1,64.8 327.0,65.5 327.9,64.8 328.8,64.7 329.7,64.6 330.6,63.5 331.5,63.7 332.4,63.9 333.3,64.0 334.2,64.2 335.1,64.4 336.0,65.2 336.9,65.4 337.8,64.1 338.7,64.0 339.6,64.4 340.5,64.1 341.4,63.1 342.3,62.7 343.2,63.3 344.1,64.1 345.0,64.1 345.9,63.6 346.8,63.6 347.7,63.3 348.6,63.1 349.5,64.0 350.4,64.3 351.3,64.2 352.2,63.4 353.1,62.8 354.0,62.4 354.9,62.7 355.8,62.9 356.7,61.7 357.6,61.6 358.5,62.3 359.4,61.4 360.3,60.4 361.2,62.0 362.1,62.7 363.0,62.1 363.9,61.1 364.8,61.9 365.7,63.1 366.6,62.6 367.5,61.5 368.4,61.3 369.3,62.4 370.2,61.9 371.1,61.1 372.0,61.0 372.9,61.3 373.8,61.4 374.7,60.8 375.6,60.1 376.5,59.4 377.4,60.5 378.3,62.0 379.2,61.9 380.1,61.7 381.0,61.0 381.9,60.1 382.8,60.5 383.7,60.4 384.6,60.9 385.5,60.3 386.4,59.1 387.3,59.5 388.2,59.3 389.1,59.8 390.0,59.1 390.9,59.2 391.8,60.5 392.7,60.0 393.6,60.2 394.5,61.1 395.4,60.4 396.3,59.5 397.2,59.6 398.1,59.4 399.0,58.8 399.9,58.1 400.8,58.6 401.7,58.6 402.6,58.7 403.5,59.3 404.4,58.5 405.3,58.2 406.2,58.4 407.1,58.0 408.0,58.4 408.9,58.4 409.8,57.9 410.7,56.8 411.6,56.9 412.5,57.1 413.4,56.5 414.3,57.9 415.2,58.9 416.1,57.8 417.0,56.2 417.9,56.5 418.8,56.9 419.7,56.7 420.6,56.2 421.5,56.5 422.4,57.8 423.3,56.4 424.2,55.2 425.1,55.5 426.0,56.1 426.9,55.4 427.8,55.1 428.7,55.8 429.6,55.2 430.5,55.6 431.4,54.9 432.3,53.8 433.2,54.3 434.1,55.2 435.0,55.4 435.9,54.5 436.8,54.8 437.7,54.9 438.6,54.3 439.5,54.2 440.4,54.6 441.3,56.1 442.2,55.2 443.1,53.9 444.0,54.3 444.9,54.0 445.8,54.7 446.7,55.1 447.6,54.6 448.5,53.9 449.4,53.1 450.3,53.3 451.2,53.5 452.1,53.0 453.0,53.4 453.9,53.0 454.8,52.2 455.7,53.1 456.6,53.3 457.5,53.2 458.4,52.7 459.3,52.6 460.2,52.6 461.1,52.8 462.0,53.5 462.9,52.9 463.8,53.2 464.7,53.1 465.6,51.9 466.5,52.4 467.4,52.8 468.3,52.5 469.2,52.4 470.1,52.2 471.0,51.6 471.9,50.3 472.8,50.0 473.7,50.9 474.6,50.5 475.5,49.1 476.4,49.3 477.3,50.2 478.2,51.1 479.1,50.5 480.0,50.5 480.9,51.0 481.8,51.1 482.7,51.3 483.6,50.3 484.5,49.8 485.4,50.0 486.3,50.0 487.2,50.1 488.1,49.8 489.0,50.0 489.9,49.9 490.8,49.8 491.7,49.7 492.6,49.2 493.5,49.5 494.4,50.0 495.3,50.1 496.2,49.8 497.1,49.0 498.0,48.7 498.9,48.8 499.8,47.7 500.7,47.0 501.6,48.5 502.5,48.9 503.4,46.7 504.3,46.5 505.2,47.9 506.1,47.3 507.0,48.2 507.9,49.3 508.8,48.5 509.7,47.7 510.6,47.5 511.5,47.9 512.4,47.8 513.3,47.0 514.2,46.7 515.1,47.0 516.0,47.0 516.9,46.3 517.8,46.1 518.7,46.5 519.6,46.4 520.5,46.3 521.4,45.3 522.3,45.5 523.2,46.4 524.1,45.2 525.0,44.6 525.9,44.7 526.8,44.3 527.7,45.0 528.6,45.3 529.5,45.6 530.4,45.1 531.3,43.4 532.2,43.2" fill="none" stroke="#5fc4fa" stroke-width="1.38" stroke-linejoin="round" /></g>
<g clip-path="url(#cb)"><polygon points="67.8,226.3 67.8,239.7 68.4,239.5 69.0,239.8 69.6,239.9 70.2,240.2 70.8,240.5 71.4,240.9 72.0,240.8 72.6,241.2 73.2,241.5 73.8,241.7 74.4,241.8 75.0,242.1 75.6,242.7 76.2,242.7 76.8,242.9 77.4,242.8 78.0,242.9 78.6,243.0 79.2,242.9 79.8,242.9 80.4,243.0 81.0,243.3 81.6,243.0 82.2,243.5 82.8,243.3 83.4,243.3 84.0,243.5 84.6,243.3 85.2,242.8 85.8,242.8 86.4,243.1 87.0,242.9 87.6,243.0 88.2,242.8 88.8,242.7 89.4,242.9 90.0,242.7 90.6,243.1 91.2,242.6 91.8,242.0 92.4,241.8 93.0,241.8 93.6,241.8 94.2,241.4 94.8,241.0 95.4,240.8 96.0,240.7 96.6,240.5 97.2,240.4 97.8,240.3 98.4,240.3 99.0,240.0 99.6,239.9 100.2,240.0 100.8,239.9 101.4,239.3 102.0,239.2 102.6,239.5 103.2,239.3 103.8,239.1 104.4,239.3 105.0,239.5 105.6,239.2 106.2,238.9 106.8,238.8 107.4,238.8 108.0,239.0 108.6,239.0 109.2,238.8 109.8,238.6 110.4,238.6 111.0,238.6 111.6,238.6 112.2,238.4 112.8,239.1 113.4,239.1 114.0,238.7 114.6,238.8 115.2,238.4 115.8,238.3 116.4,238.4 117.0,238.4 117.6,238.1 118.2,238.3 118.8,238.3 119.4,238.3 120.0,238.1 120.6,238.3 121.2,238.4 121.8,237.9 122.4,238.1 123.0,238.2 123.6,237.9 124.2,237.9 124.8,237.9 125.4,237.8 126.0,237.8 126.6,238.2 127.2,237.7 127.8,237.6 128.4,237.7 129.0,237.5 129.6,238.1 130.2,237.8 130.8,237.5 131.4,237.6 132.0,237.4 132.6,237.3 133.2,237.5 133.8,237.6 134.4,237.6 135.0,237.6 135.6,237.5 136.2,237.3 136.8,237.9 137.4,237.5 138.0,237.4 138.6,237.2 139.2,237.2 139.8,237.3 140.4,237.1 141.0,237.1 141.6,237.0 142.2,237.0 142.8,237.1 143.4,237.0 144.0,237.0 144.6,237.4 145.2,237.4 145.8,236.9 146.4,236.9 147.0,236.9 147.6,236.9 148.2,236.9 148.8,237.0 149.4,237.0 150.0,237.1 150.6,237.1 151.2,236.9 151.8,236.7 152.4,236.8 153.0,236.8 153.6,236.7 154.2,236.8 154.8,236.8 155.4,236.7 156.0,236.7 156.6,236.7 157.2,236.5 157.8,236.5 158.4,236.7 159.0,236.8 159.6,236.4 160.2,236.6 160.8,236.6 161.4,236.5 162.0,236.6 162.6,236.4 163.2,236.5 163.8,236.3 164.4,236.2 165.0,236.4 165.6,236.4 166.2,236.2 166.8,236.4 167.4,236.3 168.0,236.1 168.6,236.3 169.2,236.2 169.8,236.2 170.4,236.4 171.0,236.0 171.6,236.3 172.2,236.2 172.8,236.0 173.4,236.1 174.0,235.9 174.6,236.1 175.2,236.1 175.8,236.0 176.4,235.8 177.0,235.8 177.6,235.8 178.2,235.8 178.8,235.8 179.4,235.7 180.0,235.9 180.6,235.9 181.2,235.9 181.8,235.7 182.4,235.6 183.0,235.6 183.6,235.8 184.2,236.0 184.8,235.8 185.4,235.7 186.0,235.6 186.6,235.5 187.2,235.5 187.8,235.5 188.4,235.5 189.0,235.4 189.6,235.3 190.2,235.3 190.8,235.7 191.4,235.7 192.0,235.4 192.6,235.3 193.2,235.3 193.8,235.2 194.4,235.2 195.0,235.2 195.6,235.2 196.2,235.2 196.8,235.2 197.4,235.4 198.0,235.2 198.6,235.1 199.2,235.1 199.8,235.1 200.4,235.1 201.0,234.9 201.6,235.0 202.2,235.3 202.8,235.0 203.4,235.1 204.0,234.9 204.6,235.0 205.2,234.9 205.8,234.9 206.4,234.9 207.0,234.9 207.6,234.8 208.2,234.7 208.8,234.7 209.4,234.8 210.0,234.9 210.6,234.7 211.2,234.6 211.8,234.8 212.4,234.8 213.0,234.7 213.6,234.6 214.2,234.7 214.8,234.6 215.4,234.6 216.0,234.7 216.6,234.8 217.2,234.5 217.8,234.5 218.4,234.7 219.0,234.7 219.6,234.4 220.2,234.5 220.8,234.4 221.4,234.3 222.0,234.3 222.6,234.4 223.2,234.3 223.8,234.3 224.4,234.3 225.0,234.3 225.6,234.3 226.2,234.4 226.8,234.1 227.4,234.2 228.0,234.1 228.6,234.3 229.2,234.2 229.8,234.1 230.4,234.2 231.0,234.3 231.6,234.0 232.2,234.0 232.8,234.1 233.4,234.1 234.0,234.0 234.6,234.2 235.2,234.2 235.8,233.9 236.4,233.9 237.0,233.9 237.6,233.8 238.2,234.0 238.8,234.2 239.4,233.8 240.0,233.8 240.6,234.1 241.2,234.2 241.8,233.8 242.4,233.7 243.0,233.7 243.6,233.8 244.2,233.7 244.8,233.7 245.4,233.6 246.0,233.7 246.6,233.9 247.2,233.8 247.8,233.6 248.4,233.7 249.0,233.5 249.6,233.6 250.2,233.8 250.8,233.7 251.4,233.5 252.0,233.4 252.6,233.5 253.2,233.4 253.8,233.4 254.4,233.3 255.0,233.3 255.6,233.3 256.2,233.5 256.8,233.4 257.4,233.3 258.0,233.6 258.6,233.2 259.2,233.5 259.8,233.3 260.4,233.2 261.0,233.2 261.6,233.2 262.2,233.2 262.8,233.1 263.4,233.1 264.0,233.2 264.6,233.3 265.2,233.1 265.8,233.0 266.4,233.1 267.0,233.0 267.6,232.9 268.2,233.0 268.8,233.0 269.4,232.9 270.0,232.8 270.6,233.0 271.2,233.0 271.8,232.8 272.4,233.0 273.0,232.9 273.6,232.7 274.2,232.7 274.8,232.9 275.4,232.8 276.0,232.7 276.6,232.6 277.2,232.7 277.8,232.9 278.4,232.8 279.0,232.6 279.6,232.9 280.2,232.7 280.8,232.7 281.4,232.7 282.0,232.6 282.6,232.5 283.2,232.6 283.8,232.5 284.4,232.4 285.0,232.5 285.6,232.4 286.2,232.4 286.8,232.4 287.4,232.3 288.0,232.3 288.6,232.3 289.2,232.5 289.8,232.3 290.4,232.4 291.0,232.2 291.6,232.5 292.2,232.3 292.8,232.3 293.4,232.3 294.0,232.2 294.6,232.1 295.2,232.1 295.8,232.1 296.4,232.0 297.0,232.1 297.6,232.2 298.2,232.0 298.8,232.2 299.4,232.2 300.0,231.9 300.6,231.9 301.2,232.0 301.8,231.9 302.4,232.0 303.0,231.8 303.6,231.9 304.2,232.0 304.8,232.0 305.4,231.8 306.0,231.9 306.6,231.8 307.2,231.8 307.8,231.8 308.4,231.8 309.0,231.8 309.6,231.7 310.2,231.8 310.8,231.8 311.4,231.6 312.0,231.7 312.6,231.6 313.2,231.6 313.8,231.5 314.4,231.6 315.0,231.6 315.6,231.5 316.2,231.6 316.8,231.6 317.4,231.5 318.0,231.5 318.6,231.5 319.2,231.5 319.8,231.5 320.4,231.4 321.0,231.3 321.6,231.4 322.2,231.4 322.8,231.5 323.4,231.5 324.0,231.3 324.6,231.2 325.2,231.3 325.8,231.2 326.4,231.3 327.0,231.3 327.6,231.3 328.2,231.2 328.8,231.3 329.4,231.2 330.0,231.1 330.6,231.1 331.2,231.1 331.8,231.1 332.4,231.1 333.0,231.0 333.6,231.0 334.2,231.0 334.8,231.1 335.4,231.0 336.0,231.1 336.6,230.9 337.2,231.0 337.8,231.3 338.4,231.1 339.0,230.9 339.6,230.8 340.2,230.9 340.8,230.8 341.4,230.8 342.0,230.8 342.6,230.8 343.2,230.8 343.8,230.7 344.4,230.7 345.0,230.7 345.6,230.7 346.2,230.7 346.8,230.7 347.4,230.6 348.0,230.6 348.6,230.6 349.2,230.7 349.8,230.6 350.4,230.6 351.0,230.5 351.6,230.7 352.2,230.6 352.8,230.5 353.4,230.5 354.0,230.5 354.6,230.4 355.2,230.5 355.8,230.4 356.4,230.4 357.0,230.4 357.6,230.4 358.2,230.3 358.8,230.3 359.4,230.3 360.0,230.3 360.6,230.3 361.2,230.3 361.8,230.3 362.4,230.3 363.0,230.2 363.6,230.3 364.2,230.2 364.8,230.2 365.4,230.1 366.0,230.2 366.6,230.2 367.2,230.1 367.8,230.1 368.4,230.1 369.0,230.1 369.6,230.0 370.2,230.0 370.8,230.0 371.4,230.1 372.0,230.0 372.6,230.0 373.2,229.9 373.8,230.0 374.4,230.0 375.0,230.1 375.6,230.0 376.2,229.9 376.8,229.9 377.4,229.9 378.0,229.8 378.6,229.8 379.2,229.8 379.8,229.8 380.4,229.7 381.0,229.8 381.6,229.7 382.2,229.9 382.8,229.9 383.4,229.7 384.0,229.6 384.6,229.6 385.2,229.6 385.8,229.7 386.4,229.6 387.0,229.6 387.6,229.6 388.2,229.6 388.8,229.5 389.4,229.5 390.0,229.5 390.6,229.5 391.2,229.5 391.8,229.5 392.4,229.5 393.0,229.5 393.6,229.4 394.2,229.4 394.8,229.4 395.4,229.4 396.0,229.3 396.6,229.3 397.2,229.3 397.8,229.3 398.4,229.3 399.0,229.3 399.6,229.3 400.2,229.2 400.8,229.2 401.4,229.3 402.0,229.2 402.6,229.2 403.2,229.2 403.8,229.2 404.4,229.1 405.0,229.1 405.6,229.1 406.2,229.1 406.8,229.1 407.4,229.0 408.0,229.0 408.6,229.0 409.2,229.0 409.8,229.0 410.4,229.0 411.0,229.0 411.6,228.9 412.2,228.9 412.8,228.9 413.4,228.9 414.0,228.9 414.6,228.8 415.2,228.8 415.8,228.8 416.4,228.8 417.0,228.8 417.6,228.8 418.2,228.7 418.8,228.8 419.4,228.7 420.0,228.7 420.6,228.7 421.2,228.6 421.8,228.6 422.4,228.6 423.0,228.6 423.6,228.6 424.2,228.6 424.8,228.6 425.4,228.6 426.0,228.5 426.6,228.5 427.2,228.5 427.8,228.5 428.4,228.5 429.0,228.4 429.6,228.4 430.2,228.4 430.8,228.4 431.4,228.4 432.0,228.4 432.6,228.4 433.2,228.3 433.8,228.3 434.4,228.3 435.0,228.3 435.6,228.3 436.2,228.3 436.8,228.2 437.4,228.2 438.0,228.2 438.6,228.2 439.2,228.2 439.8,228.2 440.4,228.2 441.0,228.1 441.6,228.1 442.2,228.1 442.8,228.1 443.4,228.1 444.0,228.1 444.6,228.1 445.2,228.0 445.8,228.0 446.4,228.0 447.0,228.0 447.6,228.0 448.2,228.0 448.8,227.9 449.4,227.9 450.0,227.9 450.6,227.9 451.2,227.9 451.8,227.8 452.4,227.8 453.0,227.8 453.6,227.8 454.2,227.8 454.8,227.8 455.4,227.8 456.0,227.7 456.6,227.7 457.2,227.7 457.8,227.7 458.4,227.7 459.0,227.7 459.6,227.6 460.2,227.6 460.8,227.6 461.4,227.6 462.0,227.6 462.6,227.6 463.2,227.5 463.8,227.5 464.4,227.5 465.0,227.5 465.6,227.5 466.2,227.5 466.8,227.5 467.4,227.4 468.0,227.4 468.6,227.4 469.2,227.4 469.8,227.4 470.4,227.4 471.0,227.3 471.6,227.3 472.2,227.3 472.8,227.3 473.4,227.3 474.0,227.3 474.6,227.2 475.2,227.2 475.8,227.2 476.4,227.2 477.0,227.2 477.6,227.2 478.2,227.2 478.8,227.1 479.4,227.1 480.0,227.1 480.6,227.1 481.2,227.1 481.8,227.1 482.4,227.0 483.0,227.0 483.6,227.0 484.2,227.0 484.8,227.0 485.4,227.0 486.0,227.0 486.6,227.0 487.2,227.0 487.8,227.0 488.4,227.0 489.0,227.0 489.6,227.0 490.2,227.0 490.8,227.0 491.4,227.0 492.0,227.0 492.6,227.0 493.2,227.0 493.8,227.0 494.4,227.0 495.0,227.0 495.6,227.0 496.2,226.9 496.8,226.9 497.4,226.9 498.0,226.9 498.6,226.9 499.2,226.9 499.8,226.9 500.4,226.9 501.0,226.9 501.6,226.9 502.2,226.9 502.8,226.9 503.4,226.9 504.0,226.9 504.6,226.9 505.2,226.9 505.8,226.9 506.4,226.9 507.0,226.9 507.6,226.9 508.2,226.9 508.8,226.9 509.4,226.9 510.0,226.9 510.6,226.9 511.2,226.9 511.8,226.9 512.4,226.9 513.0,226.9 513.6,226.9 514.2,226.9 514.8,226.9 515.4,226.9 516.0,226.9 516.6,226.9 517.2,226.9 517.8,226.9 518.4,226.9 519.0,226.9 519.6,226.9 520.2,226.8 520.8,226.8 521.4,226.8 522.0,226.8 522.6,226.8 523.2,226.8 523.8,226.8 524.4,226.8 525.0,226.8 525.6,226.8 526.2,226.8 526.8,226.8 527.4,226.8 528.0,226.8 528.6,226.8 529.2,226.8 529.8,226.8 530.4,226.8 531.0,226.8 531.6,226.8 532.2,226.8 532.3,226.3" fill="#000"/><line x1="67.8" y1="226.5" x2="532.3" y2="226.5" stroke="#000" stroke-width="1.1"/><polyline points="67.6,146.3 72.6,146.3 72.6,147.1 75.4,147.1 75.4,149.3 77.3,149.3 77.3,152.1 79.2,152.1 79.2,158.5 81.0,158.5 81.0,164.5 82.5,164.5 82.5,167.9 85.7,167.9 85.7,170.4 88.5,170.4 88.5,172.7 91.3,172.7 91.3,175.0 94.1,175.0 94.1,178.3 95.9,178.3 95.9,186.0 97.8,186.0 97.8,195.0 99.6,195.0 99.6,202.5 101.5,202.5 101.5,209.5 102.6,209.5 102.6,214.5 106.0,214.5 106.0,216.2 108.0,216.2 108.0,212.2 110.5,212.2 110.5,216.2 111.0,216.5 111.5,216.5 112.0,216.5 112.5,216.5 113.0,216.5 113.5,216.4 114.0,216.4 114.5,216.4 115.0,216.4 115.5,216.4 116.0,216.3 116.5,212.6 117.0,212.6 117.5,212.6 118.0,212.6 118.5,212.6 119.0,212.5 119.5,212.5 120.0,212.5 120.5,212.5 121.0,217.5 121.5,217.5 122.0,217.4 122.5,217.4 123.0,217.4 123.5,217.4 124.0,217.4 124.5,217.3 125.0,216.0 125.5,216.0 126.0,216.0 126.5,215.9 127.0,215.9 127.5,215.9 128.0,215.9 128.5,215.9 129.0,215.9 129.5,215.8 130.0,215.8 130.5,215.8 131.0,215.8 131.5,215.8 132.0,215.7 132.5,215.8 133.0,215.8 133.5,212.2 134.0,212.2 134.5,212.2 135.0,212.2 135.5,212.2 136.0,212.3 136.5,212.3 137.0,212.3 137.5,212.3 138.0,217.3 138.5,217.3 139.0,217.3 139.5,217.3 140.0,217.3 140.5,217.3 141.0,217.4 141.5,216.1 142.0,216.1 142.5,216.1 143.0,216.1 143.5,216.2 144.0,216.2 144.5,216.2 145.0,216.2 145.5,216.2 146.0,212.7 146.5,212.7 147.0,212.7 147.5,212.7 148.0,212.7 148.5,212.8 149.0,212.8 149.5,217.6 150.0,217.7 150.5,217.7 151.0,217.7 151.5,217.7 152.0,217.7 152.5,217.8 153.0,217.8 153.5,216.5 154.0,216.5 154.5,216.5 155.0,216.6 155.5,216.6 156.0,216.6 156.5,216.6 157.0,216.6 157.5,216.7 158.0,216.7 158.5,216.7 159.0,216.7 159.5,216.7 160.0,216.7 160.5,213.2 161.0,213.3 161.5,213.3 162.0,213.3 162.5,213.3 163.0,213.3 163.5,213.4 164.0,213.4 164.5,213.4 165.0,218.2 165.5,218.2 166.0,218.2 166.5,218.2 167.0,218.3 167.5,218.3 168.0,218.3 168.5,218.3 169.0,217.1 169.5,217.1 170.0,217.1 170.5,217.1 171.0,217.1 171.5,217.2 172.0,217.2 172.5,217.2 173.0,217.2 173.5,217.2 174.0,217.2 174.5,217.3 175.0,217.3 175.5,217.3 176.0,217.3 176.5,217.3 177.0,217.4 177.5,217.4 178.0,217.4 178.5,217.4 179.0,217.4 179.5,217.4 180.0,217.5 180.5,217.5 181.0,217.5 181.5,217.5 182.0,217.5 182.5,214.1 183.0,214.1 183.5,214.2 184.0,214.2 184.5,214.2 185.0,214.2 185.5,214.2 186.0,214.2 186.5,214.3 187.0,218.9 187.5,219.0 188.0,219.0 188.5,219.0 189.0,219.0 189.5,219.0 190.0,219.0 190.5,217.8 191.0,217.8 191.5,217.9 192.0,217.9 192.5,217.9 193.0,217.9 193.5,217.9 194.0,217.9 194.5,214.5 195.0,214.5 195.5,214.6 196.0,214.6 196.5,214.6 197.0,214.6 197.5,214.6 198.0,214.6 198.5,214.6 199.0,219.2 199.5,219.3 200.0,219.3 200.5,219.3 201.0,219.3 201.5,219.3 202.0,219.3 202.5,218.1 203.0,218.1 203.5,218.1 204.0,218.1 204.5,218.2 205.0,218.2 205.5,218.2 206.0,218.2 206.5,214.9 207.0,214.9 207.5,214.9 208.0,214.9 208.5,214.9 209.0,215.0 209.5,215.0 210.0,215.0 210.5,215.0 211.0,219.5 211.5,219.5 212.0,219.5 212.5,219.5 213.0,219.6 213.5,219.6 214.0,219.6 214.5,219.6 215.0,218.4 215.5,218.4 216.0,218.4 216.5,218.4 217.0,218.5 217.5,218.5 218.0,218.5 218.5,218.5 219.0,215.3 219.5,215.3 220.0,215.3 220.5,215.3 221.0,215.3 221.5,215.3 222.0,215.3 222.5,219.8 223.0,219.8 223.5,219.8 224.0,219.8 224.5,219.8 225.0,219.8 225.5,219.8 226.0,219.8 226.5,218.7 227.0,218.7 227.5,218.7 228.0,218.7 228.5,218.7 229.0,218.7 229.5,218.7 230.0,218.8 230.5,218.8 231.0,218.8 231.5,218.8 232.0,218.8 232.5,218.8 233.0,218.8 233.5,218.8 234.0,218.9 234.5,218.9 235.0,218.9 235.5,218.9 236.0,218.9 236.5,218.9 237.0,218.9 237.5,218.9 238.0,218.9 238.5,219.0 239.0,219.0 239.5,219.0 240.0,219.0 240.5,215.9 241.0,215.9 241.5,216.0 242.0,216.0 242.5,216.0 243.0,216.0 243.5,216.0 244.0,216.0 244.5,216.0 245.0,220.3 245.5,220.3 246.0,220.3 246.5,220.3 247.0,220.3 247.5,220.3 248.0,220.3 248.5,220.3 249.0,219.2 249.5,219.2 250.0,219.2 250.5,219.2 251.0,219.3 251.5,219.3 252.0,219.3 252.5,219.3 253.0,219.3 253.5,219.3 254.0,219.3 254.5,219.3 255.0,219.3 255.5,219.4 256.0,219.4 256.5,219.4 257.0,219.4 257.5,219.4 258.0,216.5 258.5,216.5 259.0,216.5 259.5,216.5 260.0,216.5 260.5,216.5 261.0,216.5 261.5,220.6 262.0,220.6 262.5,220.7 263.0,220.7 263.5,220.7 264.0,220.7 264.5,220.7 265.0,220.7 265.5,219.6 266.0,219.6 266.5,219.6 267.0,219.6 267.5,219.6 268.0,219.7 268.5,219.7 269.0,219.7 269.5,219.7 270.0,219.7 270.5,219.7 271.0,219.7 271.5,219.7 272.0,219.7 272.5,219.8 273.0,219.8 273.5,219.8 274.0,219.8 274.5,219.8 275.0,219.8 275.5,219.8 276.0,219.8 276.5,219.9 277.0,219.9 277.5,219.9 278.0,219.9 278.5,219.9 279.0,219.9 279.5,217.1 280.0,217.1 280.5,217.2 281.0,217.2 281.5,217.2 282.0,217.2 282.5,217.2 283.0,217.2 283.5,217.2 284.0,221.1 284.5,221.1 285.0,221.2 285.5,221.2 286.0,221.2 286.5,221.2 287.0,221.2 287.5,220.1 288.0,220.1 288.5,220.1 289.0,220.1 289.5,220.2 290.0,220.2 290.5,220.2 291.0,220.2 291.5,220.2 292.0,220.2 292.5,220.2 293.0,220.2 293.5,220.3 294.0,220.3 294.5,220.3 295.0,217.6 295.5,217.6 296.0,217.6 296.5,217.6 297.0,217.7 297.5,217.7 298.0,217.7 298.5,221.5 299.0,221.5 299.5,221.5 300.0,221.5 300.5,221.5 301.0,221.5 301.5,221.5 302.0,221.5 302.5,220.5 303.0,220.5 303.5,220.5 304.0,220.5 304.5,220.5 305.0,220.5 305.5,220.5 306.0,220.5 306.5,220.6 307.0,220.6 307.5,220.6 308.0,220.6 308.5,220.6 309.0,220.6 309.5,218.1 310.0,218.1 310.5,218.1 311.0,218.1 311.5,218.1 312.0,218.1 312.5,218.1 313.0,218.1 313.5,218.1 314.0,221.8 314.5,221.8 315.0,221.8 315.5,221.8 316.0,221.8 316.5,221.8 317.0,221.8 317.5,220.8 318.0,220.8 318.5,220.8 319.0,220.8 319.5,220.9 320.0,220.9 320.5,220.9 321.0,220.9 321.5,220.9 322.0,220.9 322.5,220.9 323.0,220.9 323.5,221.0 324.0,221.0 324.5,221.0 325.0,221.0 325.5,221.0 326.0,221.0 326.5,221.0 327.0,218.6 327.5,218.6 328.0,218.6 328.5,218.6 329.0,218.6 329.5,218.6 330.0,218.7 330.5,222.1 331.0,222.1 331.5,222.1 332.0,222.1 332.5,222.1 333.0,222.2 333.5,222.2 334.0,222.2 334.5,221.2 335.0,221.2 335.5,221.2 336.0,221.2 336.5,221.3 337.0,221.3 337.5,221.3 338.0,221.3 338.5,218.9 339.0,219.0 339.5,219.0 340.0,219.0 340.5,219.0 341.0,219.0 341.5,219.0 342.0,219.0 342.5,219.0 343.0,222.4 343.5,222.4 344.0,222.4 344.5,222.4 345.0,222.4 345.5,222.4 346.0,222.4 346.5,222.4 347.0,221.5 347.5,221.5 348.0,221.5 348.5,221.5 349.0,221.5 349.5,221.6 350.0,221.6 350.5,221.6 351.0,221.6 351.5,221.6 352.0,221.6 352.5,221.6 353.0,221.6 353.5,221.6 354.0,221.7 354.5,221.7 355.0,221.7 355.5,221.7 356.0,221.7 356.5,221.7 357.0,221.7 357.5,221.7 358.0,221.7 358.5,221.8 359.0,221.8 359.5,221.8 360.0,221.8 360.5,221.8 361.0,221.8 361.5,221.8 362.0,221.8 362.5,221.9 363.0,221.9 363.5,221.9 364.0,221.9 364.5,221.9 365.0,221.9 365.5,221.9 366.0,221.9 366.5,219.8 367.0,219.8 367.5,219.8 368.0,219.8 368.5,219.8 369.0,219.9 369.5,219.9 370.0,219.9 370.5,219.9 371.0,222.9 371.5,222.9 372.0,222.9 372.5,222.9 373.0,222.9 373.5,222.9 374.0,223.0 374.5,222.1 375.0,222.1 375.5,222.1 376.0,222.1 376.5,222.1 377.0,222.1 377.5,222.2 378.0,222.2 378.5,222.2 379.0,222.2 379.5,222.2 380.0,222.2 380.5,222.2 381.0,222.2 381.5,222.2 382.0,222.2 382.5,222.2 383.0,222.3 383.5,222.3 384.0,222.3 384.5,222.3 385.0,222.3 385.5,222.3 386.0,222.3 386.5,222.3 387.0,222.3 387.5,222.3 388.0,222.3 388.5,222.4 389.0,222.4 389.5,222.4 390.0,222.4 390.5,222.4 391.0,222.4 391.5,222.4 392.0,222.4 392.5,222.4 393.0,222.4 393.5,222.4 394.0,222.4 394.5,220.5 395.0,220.5 395.5,220.5 396.0,220.6 396.5,220.6 397.0,220.6 397.5,220.6 398.0,220.6 398.5,220.6 399.0,223.3 399.5,223.3 400.0,223.3 400.5,223.3 401.0,223.3 401.5,223.4 402.0,223.4 402.5,222.6 403.0,222.6 403.5,222.6 404.0,222.6 404.5,222.6 405.0,222.6 405.5,222.6 406.0,222.7 406.5,220.8 407.0,220.9 407.5,220.9 408.0,220.9 408.5,220.9 409.0,220.9 409.5,220.9 410.0,220.9 410.5,220.9 411.0,223.5 411.5,223.5 412.0,223.5 412.5,223.5 413.0,223.5 413.5,223.5 414.0,223.5 414.5,223.5 415.0,222.8 415.5,222.8 416.0,222.8 416.5,222.8 417.0,222.9 417.5,222.9 418.0,222.9 418.5,222.9 419.0,222.9 419.5,222.9 420.0,222.9 420.5,222.9 421.0,222.9 421.5,222.9 422.0,222.9 422.5,222.9 423.0,223.0 423.5,223.0 424.0,221.3 424.5,221.3 425.0,221.3 425.5,221.3 426.0,221.3 426.5,221.4 427.0,221.4 427.5,223.7 428.0,223.7 428.5,223.7 429.0,223.8 429.5,223.8 430.0,223.8 430.5,223.8 431.0,223.8 431.5,223.1 432.0,223.1 432.5,223.1 433.0,223.1 433.5,223.1 434.0,223.2 434.5,223.2 435.0,223.2 435.5,223.2 436.0,223.2 436.5,223.2 437.0,223.2 437.5,223.2 438.0,223.2 438.5,223.2 439.0,221.7 439.5,221.7 440.0,221.7 440.5,221.8 441.0,221.8 441.5,221.8 442.0,221.8 442.5,224.0 443.0,224.0 443.5,224.0 444.0,224.0 444.5,224.0 445.0,224.0 445.5,224.0 446.0,224.0 446.5,223.4 447.0,223.4 447.5,223.4 448.0,223.4 448.5,223.4 449.0,223.4 449.5,223.5 450.0,223.5 450.5,223.5 451.0,223.5 451.5,223.5 452.0,223.5 452.5,223.5 453.0,223.5 453.5,223.5 454.0,223.5 454.5,223.5 455.0,223.6 455.5,222.2 456.0,222.2 456.5,222.2 457.0,222.2 457.5,222.2 458.0,222.2 458.5,222.3 459.0,222.3 459.5,222.3 460.0,224.3 460.5,224.3 461.0,224.3 461.5,224.3 462.0,224.3 462.5,224.3 463.0,224.3 463.5,224.3 464.0,223.7 464.5,223.7 465.0,223.8 465.5,223.8 466.0,223.8 466.5,223.8 467.0,223.8 467.5,223.8 468.0,223.8 468.5,223.8 469.0,223.8 469.5,223.8 470.0,223.8 470.5,223.9 471.0,223.9 471.5,223.9 472.0,223.9 472.5,223.9 473.0,222.7 473.5,222.7 474.0,222.7 474.5,222.7 475.0,222.7 475.5,222.7 476.0,222.8 476.5,224.5 477.0,224.5 477.5,224.5 478.0,224.5 478.5,224.6 479.0,224.6 479.5,224.6 480.0,224.6 480.5,224.0 481.0,224.1 481.5,224.1 482.0,224.1 482.5,224.1 483.0,224.1 483.5,224.1 484.0,224.1 484.5,224.1 485.0,224.1 485.5,224.1 486.0,224.1 486.5,224.2 487.0,224.2 487.5,224.2 488.0,224.2 488.5,224.2 489.0,224.2 489.5,224.2 490.0,223.2 490.5,223.2 491.0,223.3 491.5,223.3 492.0,223.3 492.5,223.3 493.0,223.3 493.5,224.7 494.0,224.7 494.5,224.8 495.0,224.8 495.5,224.8 496.0,224.8 496.5,224.8 497.0,224.8 497.5,224.4 498.0,224.4 498.5,224.4 499.0,224.4 499.5,224.4 500.0,224.4 500.5,224.4 501.0,224.4 501.5,224.4 502.0,224.4 502.5,224.4 503.0,224.4 503.5,224.5 504.0,224.5 504.5,224.5 505.0,224.5 505.5,224.5 506.0,224.5 506.5,224.5 507.0,224.5 507.5,224.5 508.0,224.5 508.5,224.5 509.0,224.5 509.5,224.5 510.0,224.5 510.5,224.6 511.0,224.6 511.5,224.6 512.0,224.6 512.5,224.6 513.0,224.6 513.5,224.6 514.0,224.6 514.5,224.6 515.0,224.6 515.5,224.6 516.0,224.6 516.5,224.6 517.0,224.6 517.5,224.1 518.0,224.1 518.5,224.1 519.0,224.1 519.5,224.1 520.0,224.1 520.5,224.1 521.0,224.1 521.5,224.1 522.0,225.0 522.5,225.0 523.0,225.0 523.5,225.0 524.0,225.0 524.5,225.0 525.0,225.0 525.5,224.8 526.0,224.8 526.5,224.8 527.0,224.8 527.5,224.8 528.0,224.8 528.5,224.8 529.0,224.8 529.5,224.8 530.0,224.8 530.5,224.8 531.0,224.8 531.5,224.8 532.0,224.9" fill="none" stroke="#e8005f" stroke-width="1.35" stroke-linejoin="round" /><polyline points="67.6,146.1 72.2,146.1 72.2,147.1 75.0,147.1 75.0,149.3 76.9,149.3 76.9,152.1 78.8,152.1 78.8,157.7 80.6,157.7 80.6,163.3 82.1,163.3 82.1,167.9 85.3,167.9 85.3,169.8 88.1,169.8 88.1,171.7 90.9,171.7 90.9,174.5 93.7,174.5 93.7,176.3 95.5,176.3 95.5,184.7 97.4,184.7 97.4,194.0 99.2,194.0 99.2,201.5 101.1,201.5 101.1,208.9 102.0,208.9 102.0,216.4 105.8,216.4 105.8,219.1 108.6,219.1 108.6,217.6 111.3,217.6 111.3,216.2 111.8,216.2 112.3,216.2 112.8,216.2 113.3,216.2 113.8,216.2 114.3,216.2 114.8,216.2 115.3,216.2 115.8,216.2 116.3,216.3 116.8,216.3 117.3,216.3 117.8,216.3 118.3,216.3 118.8,216.3 119.3,216.2 119.8,216.2 120.3,216.2 120.8,216.2 121.3,216.2 121.8,216.1 122.3,216.1 122.8,216.1 123.3,216.1 123.8,216.1 124.3,212.8 124.8,212.8 125.3,212.7 125.8,212.7 126.3,212.7 126.8,212.7 127.3,212.7 127.8,212.6 128.3,217.2 128.8,217.2 129.3,217.2 129.8,217.1 130.3,217.1 130.8,217.1 131.3,217.1 131.8,215.7 132.3,215.7 132.8,215.8 133.3,215.8 133.8,215.8 134.3,215.8 134.8,215.8 135.3,215.9 135.8,215.9 136.3,215.9 136.8,215.9 137.3,215.9 137.8,215.9 138.3,216.0 138.8,216.0 139.3,212.8 139.8,212.8 140.3,212.8 140.8,212.8 141.3,212.9 141.8,212.9 142.3,212.9 142.8,212.9 143.3,217.4 143.8,217.5 144.3,217.5 144.8,217.5 145.3,217.5 145.8,217.5 146.3,217.5 146.8,217.6 147.3,216.3 147.8,216.3 148.3,216.3 148.8,216.3 149.3,216.4 149.8,216.4 150.3,216.4 150.8,213.2 151.3,213.3 151.8,213.3 152.3,213.3 152.8,213.3 153.3,213.3 153.8,213.3 154.3,213.4 154.8,213.4 155.3,213.4 155.8,217.9 156.3,217.9 156.8,217.9 157.3,217.9 157.8,217.9 158.3,218.0 158.8,218.0 159.3,216.7 159.8,216.7 160.3,216.8 160.8,216.8 161.3,216.8 161.8,216.8 162.3,216.8 162.8,216.8 163.3,216.9 163.8,216.9 164.3,216.9 164.8,216.9 165.3,216.9 165.8,217.0 166.3,217.0 166.8,217.0 167.3,217.0 167.8,217.0 168.3,217.0 168.8,217.1 169.3,217.1 169.8,217.1 170.3,217.1 170.8,217.1 171.3,217.1 171.8,217.2 172.3,217.2 172.8,214.1 173.3,214.1 173.8,214.1 174.3,214.2 174.8,214.2 175.3,214.2 175.8,214.2 176.3,214.2 176.8,214.2 177.3,214.3 177.8,218.6 178.3,218.6 178.8,218.7 179.3,218.7 179.8,218.7 180.3,218.7 180.8,218.7 181.3,217.5 181.8,217.5 182.3,217.5 182.8,217.6 183.3,217.6 183.8,217.6 184.3,217.6 184.8,217.6 185.3,217.6 185.8,217.7 186.3,217.7 186.8,217.7 187.3,217.7 187.8,214.7 188.3,214.7 188.8,214.7 189.3,214.7 189.8,214.8 190.3,214.8 190.8,214.8 191.3,214.8 191.8,214.8 192.3,214.8 192.8,219.1 193.3,219.1 193.8,219.1 194.3,219.1 194.8,219.2 195.3,219.2 195.8,219.2 196.3,218.0 196.8,218.0 197.3,218.0 197.8,218.0 198.3,218.0 198.8,218.0 199.3,218.0 199.8,218.0 200.3,218.1 200.8,218.1 201.3,218.1 201.8,218.1 202.3,218.1 202.8,218.1 203.3,218.1 203.8,218.1 204.3,218.2 204.8,218.2 205.3,218.2 205.8,218.2 206.3,218.2 206.8,218.2 207.3,218.2 207.8,218.2 208.3,218.2 208.8,218.3 209.3,218.3 209.8,218.3 210.3,218.3 210.8,218.3 211.3,218.3 211.8,218.3 212.3,218.3 212.8,218.4 213.3,218.4 213.8,218.4 214.3,218.4 214.8,218.4 215.3,218.4 215.8,218.4 216.3,215.5 216.8,215.5 217.3,215.6 217.8,215.6 218.3,215.6 218.8,215.6 219.3,215.6 219.8,219.7 220.3,219.7 220.8,219.7 221.3,219.7 221.8,219.8 222.3,219.8 222.8,219.8 223.3,219.8 223.8,218.6 224.3,218.6 224.8,218.6 225.3,218.6 225.8,218.7 226.3,218.7 226.8,218.7 227.3,218.7 227.8,218.7 228.3,218.7 228.8,218.7 229.3,218.7 229.8,218.8 230.3,218.8 230.8,218.8 231.3,216.0 231.8,216.0 232.3,216.0 232.8,216.0 233.3,216.0 233.8,216.0 234.3,216.1 234.8,216.1 235.3,220.1 235.8,220.1 236.3,220.1 236.8,220.1 237.3,220.1 237.8,220.1 238.3,220.1 238.8,220.1 239.3,219.0 239.8,219.0 240.3,219.0 240.8,219.0 241.3,219.0 241.8,219.0 242.3,219.0 242.8,219.1 243.3,219.1 243.8,219.1 244.3,219.1 244.8,219.1 245.3,219.1 245.8,219.1 246.3,219.1 246.8,219.2 247.3,219.2 247.8,219.2 248.3,216.5 248.8,216.5 249.3,216.5 249.8,216.5 250.3,216.5 250.8,216.6 251.3,216.6 251.8,220.4 252.3,220.4 252.8,220.4 253.3,220.5 253.8,220.5 254.3,220.5 254.8,220.5 255.3,220.5 255.8,219.4 256.3,219.4 256.8,219.4 257.3,219.4 257.8,219.4 258.3,219.4 258.8,219.4 259.3,219.4 259.8,216.8 260.3,216.9 260.8,216.9 261.3,216.9 261.8,216.9 262.3,216.9 262.8,216.9 263.3,216.9 263.8,216.9 264.3,216.9 264.8,220.7 265.3,220.7 265.8,220.7 266.3,220.7 266.8,220.8 267.3,220.8 267.8,220.8 268.3,219.7 268.8,219.7 269.3,219.7 269.8,219.7 270.3,219.7 270.8,219.7 271.3,219.7 271.8,219.7 272.3,219.8 272.8,219.8 273.3,219.8 273.8,219.8 274.3,219.8 274.8,219.8 275.3,219.8 275.8,219.8 276.3,219.8 276.8,219.9 277.3,219.9 277.8,219.9 278.3,219.9 278.8,219.9 279.3,219.9 279.8,219.9 280.3,219.9 280.8,220.0 281.3,220.0 281.8,220.0 282.3,220.0 282.8,220.0 283.3,220.0 283.8,220.0 284.3,220.0 284.8,220.0 285.3,220.1 285.8,220.1 286.3,220.1 286.8,220.1 287.3,220.1 287.8,220.1 288.3,217.7 288.8,217.7 289.3,217.7 289.8,217.7 290.3,217.7 290.8,217.7 291.3,217.8 291.8,217.8 292.3,221.3 292.8,221.3 293.3,221.3 293.8,221.4 294.3,221.4 294.8,221.4 295.3,221.4 295.8,221.4 296.3,220.3 296.8,220.3 297.3,220.3 297.8,220.4 298.3,220.4 298.8,220.4 299.3,220.4 299.8,218.0 300.3,218.0 300.8,218.1 301.3,218.1 301.8,218.1 302.3,218.1 302.8,218.1 303.3,218.1 303.8,218.1 304.3,218.1 304.8,221.6 305.3,221.6 305.8,221.6 306.3,221.6 306.8,221.6 307.3,221.6 307.8,221.6 308.3,220.6 308.8,220.6 309.3,220.6 309.8,220.6 310.3,220.6 310.8,220.7 311.3,220.7 311.8,220.7 312.3,218.4 312.8,218.4 313.3,218.4 313.8,218.4 314.3,218.5 314.8,218.5 315.3,218.5 315.8,218.5 316.3,221.8 316.8,221.8 317.3,221.8 317.8,221.8 318.3,221.9 318.8,221.9 319.3,221.9 319.8,221.9 320.3,220.9 320.8,220.9 321.3,220.9 321.8,220.9 322.3,220.9 322.8,220.9 323.3,220.9 323.8,221.0 324.3,221.0 324.8,221.0 325.3,221.0 325.8,221.0 326.3,221.0 326.8,221.0 327.3,221.0 327.8,221.1 328.3,221.1 328.8,221.1 329.3,221.1 329.8,221.1 330.3,221.1 330.8,221.1 331.3,221.1 331.8,221.1 332.3,221.2 332.8,221.2 333.3,221.2 333.8,221.2 334.3,221.2 334.8,221.2 335.3,221.2 335.8,221.2 336.3,221.2 336.8,221.3 337.3,221.3 337.8,221.3 338.3,221.3 338.8,221.3 339.3,221.3 339.8,221.3 340.3,219.2 340.8,219.3 341.3,219.3 341.8,219.3 342.3,219.3 342.8,219.3 343.3,219.3 343.8,222.4 344.3,222.4 344.8,222.4 345.3,222.4 345.8,222.4 346.3,222.4 346.8,222.4 347.3,222.4 347.8,221.5 348.3,221.5 348.8,221.5 349.3,221.5 349.8,221.6 350.3,221.6 350.8,221.6 351.3,221.6 351.8,221.6 352.3,221.6 352.8,221.6 353.3,221.6 353.8,221.7 354.3,221.7 354.8,221.7 355.3,221.7 355.8,221.7 356.3,221.7 356.8,221.7 357.3,221.7 357.8,221.7 358.3,221.8 358.8,221.8 359.3,221.8 359.8,221.8 360.3,221.8 360.8,221.8 361.3,221.8 361.8,221.8 362.3,221.8 362.8,221.9 363.3,221.9 363.8,221.9 364.3,221.9 364.8,221.9 365.3,221.9 365.8,221.9 366.3,221.9 366.8,222.0 367.3,222.0 367.8,222.0 368.3,220.1 368.8,220.1 369.3,220.1 369.8,220.1 370.3,220.1 370.8,220.1 371.3,220.1 371.8,220.2 372.3,222.9 372.8,222.9 373.3,222.9 373.8,223.0 374.3,223.0 374.8,223.0 375.3,223.0 375.8,223.0 376.3,222.1 376.8,222.1 377.3,222.2 377.8,222.2 378.3,222.2 378.8,222.2 379.3,222.2 379.8,222.2 380.3,222.2 380.8,222.2 381.3,222.2 381.8,222.2 382.3,222.2 382.8,222.3 383.3,222.3 383.8,222.3 384.3,222.3 384.8,220.5 385.3,220.5 385.8,220.5 386.3,220.5 386.8,220.5 387.3,220.5 387.8,220.5 388.3,220.6 388.8,220.6 389.3,220.6 389.8,223.2 390.3,223.2 390.8,223.2 391.3,223.2 391.8,223.2 392.3,223.2 392.8,223.2 393.3,222.4 393.8,222.4 394.3,222.5 394.8,222.5 395.3,222.5 395.8,222.5 396.3,222.5 396.8,222.5 397.3,222.5 397.8,222.5 398.3,222.5 398.8,222.5 399.3,222.5 399.8,222.5 400.3,222.6 400.8,222.6 401.3,222.6 401.8,222.6 402.3,222.6 402.8,222.6 403.3,222.6 403.8,222.6 404.3,222.6 404.8,222.6 405.3,222.6 405.8,222.7 406.3,222.7 406.8,222.7 407.3,222.7 407.8,222.7 408.3,222.7 408.8,222.7 409.3,222.7 409.8,222.7 410.3,222.7 410.8,222.7 411.3,222.8 411.8,222.8 412.3,222.8 412.8,222.8 413.3,221.2 413.8,221.2 414.3,221.2 414.8,221.2 415.3,221.2 415.8,221.3 416.3,221.3 416.8,223.6 417.3,223.6 417.8,223.6 418.3,223.6 418.8,223.6 419.3,223.6 419.8,223.6 420.3,223.6 420.8,222.9 421.3,222.9 421.8,222.9 422.3,222.9 422.8,223.0 423.3,223.0 423.8,223.0 424.3,223.0 424.8,223.0 425.3,223.0 425.8,223.0 426.3,223.0 426.8,223.0 427.3,223.0 427.8,223.0 428.3,221.6 428.8,221.6 429.3,221.6 429.8,221.6 430.3,221.6 430.8,221.6 431.3,221.7 431.8,223.8 432.3,223.8 432.8,223.8 433.3,223.8 433.8,223.8 434.3,223.8 434.8,223.8 435.3,223.9 435.8,223.2 436.3,223.2 436.8,223.2 437.3,223.2 437.8,223.2 438.3,223.2 438.8,223.2 439.3,223.3 439.8,223.3 440.3,223.3 440.8,223.3 441.3,223.3 441.8,223.3 442.3,223.3 442.8,223.3 443.3,223.3 443.8,223.3 444.3,223.4 444.8,223.4 445.3,222.1 445.8,222.1 446.3,222.1 446.8,222.1 447.3,222.1 447.8,222.1 448.3,222.1 448.8,224.1 449.3,224.1 449.8,224.1 450.3,224.1 450.8,224.1 451.3,224.1 451.8,224.1 452.3,224.1 452.8,223.5 453.3,223.5 453.8,223.5 454.3,223.5 454.8,223.6 455.3,223.6 455.8,223.6 456.3,223.6 456.8,223.6 457.3,223.6 457.8,223.6 458.3,223.6 458.8,223.6 459.3,223.6 459.8,223.7 460.3,223.7 460.8,223.7 461.3,223.7 461.8,223.7 462.3,223.7 462.8,223.7 463.3,223.7 463.8,223.7 464.3,223.7 464.8,223.7 465.3,223.8 465.8,223.8 466.3,223.8 466.8,223.8 467.3,223.8 467.8,223.8 468.3,223.8 468.8,223.8 469.3,223.8 469.8,223.8 470.3,223.9 470.8,223.9 471.3,223.9 471.8,223.9 472.3,223.9 472.8,223.9 473.3,222.8 473.8,222.8 474.3,222.8 474.8,222.9 475.3,222.9 475.8,222.9 476.3,222.9 476.8,224.5 477.3,224.5 477.8,224.5 478.3,224.6 478.8,224.6 479.3,224.6 479.8,224.6 480.3,224.6 480.8,224.1 481.3,224.1 481.8,224.1 482.3,224.1 482.8,224.1 483.3,224.1 483.8,224.1 484.3,224.1 484.8,224.1 485.3,224.1 485.8,224.1 486.3,224.2 486.8,224.2 487.3,224.2 487.8,224.2 488.3,223.3 488.8,223.3 489.3,223.3 489.8,223.3 490.3,223.3 490.8,223.3 491.3,223.3 491.8,223.4 492.3,224.7 492.8,224.7 493.3,224.7 493.8,224.7 494.3,224.7 494.8,224.8 495.3,224.8 495.8,224.8 496.3,224.3 496.8,224.3 497.3,224.4 497.8,224.4 498.3,224.4 498.8,224.4 499.3,224.4 499.8,224.4 500.3,224.4 500.8,224.4 501.3,224.4 501.8,224.4 502.3,224.4 502.8,224.4 503.3,224.5 503.8,224.5 504.3,224.5 504.8,224.5 505.3,224.5 505.8,224.5 506.3,224.5 506.8,224.5 507.3,224.5 507.8,224.5 508.3,224.5 508.8,224.5 509.3,224.5 509.8,224.5 510.3,223.9 510.8,223.9 511.3,223.9 511.8,224.0 512.3,224.0 512.8,224.0 513.3,224.0 513.8,224.0 514.3,224.9 514.8,224.9 515.3,224.9 515.8,224.9 516.3,224.9 516.8,224.9 517.3,224.9 517.8,224.9 518.3,224.7 518.8,224.7 519.3,224.7 519.8,224.7 520.3,224.7 520.8,224.7 521.3,224.7 521.8,224.7 522.3,224.7 522.8,224.7 523.3,224.7 523.8,224.7 524.3,224.7 524.8,224.8 525.3,224.8 525.8,224.8 526.3,224.8 526.8,224.8 527.3,224.8 527.8,224.8 528.3,224.8 528.8,224.8 529.3,224.8 529.8,224.8 530.3,224.8 530.8,224.8 531.3,224.8 531.8,224.8 532.3,224.9" fill="none" stroke="#0f7f7a" stroke-width="1.35" stroke-linejoin="round" /><polyline points="67.6,165.7 70.4,165.7 70.4,168.9 73.2,168.9 73.2,170.7 76.0,170.7 76.0,172.6 78.8,172.6 78.8,173.5 81.6,173.5 81.6,174.5 84.3,174.5 84.3,177.2 87.1,177.2 87.1,181.9 89.9,181.9 89.9,185.6 92.7,185.6 92.7,190.3 95.5,190.3 95.5,194.9 98.3,194.9 98.3,199.6 101.1,199.6 101.1,201.5 102.0,201.5 102.0,207.0 106.7,207.0 106.7,208.0 109.5,208.0 109.5,211.7 114.1,211.7 114.1,213.6 121.6,213.6 121.6,214.5 122.1,214.6 122.6,214.5 123.1,214.7 123.6,214.8 124.1,214.7 124.6,214.7 125.1,214.7 125.6,214.9 126.1,215.0 126.6,215.3 127.1,215.4 127.6,215.4 128.1,215.5 128.6,215.4 129.1,215.4 129.6,215.3 130.1,215.4 130.6,215.3 131.1,215.5 131.6,215.7 132.1,215.5 132.6,215.6 133.1,215.6 133.6,215.7 134.1,215.8 134.6,215.8 135.1,215.8 135.6,215.7 136.1,215.9 136.6,215.9 137.1,216.0 137.6,216.0 138.1,216.0 138.6,215.9 139.1,215.8 139.6,215.9 140.1,215.8 140.6,215.9 141.1,215.9 141.6,215.8 142.1,215.9 142.6,215.9 143.1,215.9 143.6,216.0 144.1,216.1 144.6,216.1 145.1,216.1 145.6,216.1 146.1,215.9 146.6,215.8 147.1,215.8 147.6,215.8 148.1,215.9 148.6,216.1 149.1,216.2 149.6,216.3 150.1,216.4 150.6,216.3 151.1,216.3 151.6,216.2 152.1,216.3 152.6,216.4 153.1,216.4 153.6,216.3 154.1,216.4 154.6,216.3 155.1,216.5 155.6,216.6 156.1,216.4 156.6,216.5 157.1,216.5 157.6,216.6 158.1,216.8 158.6,216.6 159.1,216.6 159.6,216.6 160.1,216.6 160.6,216.6 161.1,216.7 161.6,216.6 162.1,216.7 162.6,216.7 163.1,216.7 163.6,216.8 164.1,216.8 164.6,216.8 165.1,216.7 165.6,216.8 166.1,216.9 166.6,216.8 167.1,216.9 167.6,217.0 168.1,216.9 168.6,217.0 169.1,216.9 169.6,216.9 170.1,217.0 170.6,217.0 171.1,217.1 171.6,217.1 172.1,217.0 172.6,217.0 173.1,217.0 173.6,217.0 174.1,217.0 174.6,217.1 175.1,217.2 175.6,217.2 176.1,217.4 176.6,217.4 177.1,217.4 177.6,217.5 178.1,217.4 178.6,217.3 179.1,217.3 179.6,217.3 180.1,217.3 180.6,217.5 181.1,217.6 181.6,217.6 182.1,217.7 182.6,217.6 183.1,217.4 183.6,217.4 184.1,217.4 184.6,217.5 185.1,217.7 185.6,217.8 186.1,217.9 186.6,217.9 187.1,217.8 187.6,217.8 188.1,217.8 188.6,217.8 189.1,217.8 189.6,217.6 190.1,217.6 190.6,217.6 191.1,217.7 191.6,217.8 192.1,217.9 192.6,217.8 193.1,217.8 193.6,217.8 194.1,217.7 194.6,217.8 195.1,217.7 195.6,217.7 196.1,217.8 196.6,217.8 197.1,217.7 197.6,217.9 198.1,217.8 198.6,217.8 199.1,217.9 199.6,218.0 200.1,218.0 200.6,218.1 201.1,218.1 201.6,218.1 202.1,218.0 202.6,218.0 203.1,217.9 203.6,217.9 204.1,218.0 204.6,218.0 205.1,218.1 205.6,218.2 206.1,218.2 206.6,218.1 207.1,218.1 207.6,218.2 208.1,218.1 208.6,218.2 209.1,218.2 209.6,218.1 210.1,218.1 210.6,218.2 211.1,218.1 211.6,218.2 212.1,218.3 212.6,218.3 213.1,218.3 213.6,218.2 214.1,218.2 214.6,218.2 215.1,218.3 215.6,218.4 216.1,218.5 216.6,218.3 217.1,218.3 217.6,218.2 218.1,218.2 218.6,218.3 219.1,218.3 219.6,218.3 220.1,218.3 220.6,218.4 221.1,218.5 221.6,218.5 222.1,218.7 222.6,218.7 223.1,218.6 223.6,218.6 224.1,218.5 224.6,218.5 225.1,218.4 225.6,218.4 226.1,218.4 226.6,218.5 227.1,218.6 227.6,218.6 228.1,218.6 228.6,218.6 229.1,218.5 229.6,218.5 230.1,218.7 230.6,218.7 231.1,218.8 231.6,218.9 232.1,218.9 232.6,218.9 233.1,218.9 233.6,218.9 234.1,218.9 234.6,218.9 235.1,218.9 235.6,218.8 236.1,218.8 236.6,218.7 237.1,218.8 237.6,218.9 238.1,218.8 238.6,218.9 239.1,218.8 239.6,218.7 240.1,218.9 240.6,218.9 241.1,219.0 241.6,218.9 242.1,218.8 242.6,218.9 243.1,218.8 243.6,218.9 244.1,218.9 244.6,218.9 245.1,219.0 245.6,219.1 246.1,219.1 246.6,219.1 247.1,219.0 247.6,219.0 248.1,219.0 248.6,219.1 249.1,219.1 249.6,219.2 250.1,219.2 250.6,219.2 251.1,219.2 251.6,219.2 252.1,219.2 252.6,219.2 253.1,219.2 253.6,219.2 254.1,219.1 254.6,219.1 255.1,219.1 255.6,219.1 256.1,219.2 256.6,219.3 257.1,219.2 257.6,219.1 258.1,219.1 258.6,219.2 259.1,219.4 259.6,219.5 260.1,219.5 260.6,219.4 261.1,219.4 261.6,219.5 262.1,219.5 262.6,219.5 263.1,219.5 263.6,219.4 264.1,219.4 264.6,219.4 265.1,219.5 265.6,219.5 266.1,219.6 266.6,219.6 267.1,219.5 267.6,219.6 268.1,219.6 268.6,219.6 269.1,219.6 269.6,219.6 270.1,219.8 270.6,219.7 271.1,219.6 271.6,219.7 272.1,219.4 272.6,219.4 273.1,219.5 273.6,219.6 274.1,219.8 274.6,219.9 275.1,219.9 275.6,219.8 276.1,219.8 276.6,219.9 277.1,219.9 277.6,220.0 278.1,220.1 278.6,219.9 279.1,219.9 279.6,219.8 280.1,219.7 280.6,219.8 281.1,219.9 281.6,219.8 282.1,220.0 282.6,220.0 283.1,220.0 283.6,220.0 284.1,219.9 284.6,219.8 285.1,219.8 285.6,219.8 286.1,219.9 286.6,219.9 287.1,220.0 287.6,220.0 288.1,220.1 288.6,220.2 289.1,220.2 289.6,220.2 290.1,220.3 290.6,220.3 291.1,220.2 291.6,220.3 292.1,220.1 292.6,220.1 293.1,220.2 293.6,220.1 294.1,220.1 294.6,220.2 295.1,220.2 295.6,220.2 296.1,220.2 296.6,220.3 297.1,220.2 297.6,220.4 298.1,220.4 298.6,220.3 299.1,220.3 299.6,220.2 300.1,220.3 300.6,220.2 301.1,220.1 301.6,220.1 302.1,220.2 302.6,220.3 303.1,220.4 303.6,220.4 304.1,220.3 304.6,220.3 305.1,220.3 305.6,220.4 306.1,220.4 306.6,220.4 307.1,220.4 307.6,220.4 308.1,220.5 308.6,220.5 309.1,220.5 309.6,220.6 310.1,220.7 310.6,220.8 311.1,220.8 311.6,220.7 312.1,220.7 312.6,220.6 313.1,220.7 313.6,220.7 314.1,220.6 314.6,220.7 315.1,220.7 315.6,220.8 316.1,220.9 316.6,220.8 317.1,220.8 317.6,220.8 318.1,220.7 318.6,220.9 319.1,220.8 319.6,220.9 320.1,220.9 320.6,220.9 321.1,220.8 321.6,220.8 322.1,220.8 322.6,220.7 323.1,220.7 323.6,220.7 324.1,220.7 324.6,220.8 325.1,220.8 325.6,220.8 326.1,220.8 326.6,220.9 327.1,220.9 327.6,220.9 328.1,220.9 328.6,221.0 329.1,221.1 329.6,221.1 330.1,221.2 330.6,221.1 331.1,221.2 331.6,221.2 332.1,221.1 332.6,221.2 333.1,221.1 333.6,221.2 334.1,221.2 334.6,221.1 335.1,221.1 335.6,221.0 336.1,221.0 336.6,221.1 337.1,221.2 337.6,221.3 338.1,221.4 338.6,221.3 339.1,221.4 339.6,221.4 340.1,221.3 340.6,221.3 341.1,221.2 341.6,221.1 342.1,221.3 342.6,221.4 343.1,221.4 343.6,221.4 344.1,221.2 344.6,221.2 345.1,221.1 345.6,221.2 346.1,221.2 346.6,221.2 347.1,221.2 347.6,221.3 348.1,221.4 348.6,221.4 349.1,221.5 349.6,221.5 350.1,221.6 350.6,221.5 351.1,221.6 351.6,221.5 352.1,221.5 352.6,221.6 353.1,221.7 353.6,221.8 354.1,221.7 354.6,221.6 355.1,221.6 355.6,221.7 356.1,221.5 356.6,221.7 357.1,221.7 357.6,221.6 358.1,221.7 358.6,221.7 359.1,221.8 359.6,221.7 360.1,221.9 360.6,221.9 361.1,221.9 361.6,221.9 362.1,221.8 362.6,221.8 363.1,221.8 363.6,221.9 364.1,222.0 364.6,221.9 365.1,221.9 365.6,221.7 366.1,221.8 366.6,221.8 367.1,221.8 367.6,221.9 368.1,221.9 368.6,222.0 369.1,222.0 369.6,222.1 370.1,222.1 370.6,222.0 371.1,222.1 371.6,222.1 372.1,222.1 372.6,222.2 373.1,222.1 373.6,222.1 374.1,222.2 374.6,222.1 375.1,222.2 375.6,222.1 376.1,222.2 376.6,222.2 377.1,222.1 377.6,222.1 378.1,222.2 378.6,222.2 379.1,222.3 379.6,222.2 380.1,222.2 380.6,222.2 381.1,222.3 381.6,222.3 382.1,222.3 382.6,222.2 383.1,222.1 383.6,222.1 384.1,222.1 384.6,222.1 385.1,222.1 385.6,222.3 386.1,222.3 386.6,222.3 387.1,222.4 387.6,222.3 388.1,222.4 388.6,222.5 389.1,222.4 389.6,222.4 390.1,222.3 390.6,222.3 391.1,222.3 391.6,222.4 392.1,222.4 392.6,222.4 393.1,222.4 393.6,222.4 394.1,222.3 394.6,222.3 395.1,222.4 395.6,222.3 396.1,222.3 396.6,222.4 397.1,222.4 397.6,222.5 398.1,222.5 398.6,222.5 399.1,222.6 399.6,222.5 400.1,222.6 400.6,222.4 401.1,222.5 401.6,222.6 402.1,222.6 402.6,222.7 403.1,222.7 403.6,222.8 404.1,222.9 404.6,222.8 405.1,222.9 405.6,222.8 406.1,222.7 406.6,222.7 407.1,222.6 407.6,222.7 408.1,222.7 408.6,222.7 409.1,222.9 409.6,222.9 410.1,222.9 410.6,222.9 411.1,222.8 411.6,222.8 412.1,222.7 412.6,222.7 413.1,222.6 413.6,222.6 414.1,222.7 414.6,222.9 415.1,222.9 415.6,222.9 416.1,223.0 416.6,223.1 417.1,223.2 417.6,223.2 418.1,223.2 418.6,223.1 419.1,223.0 419.6,223.0 420.1,223.0 420.6,222.9 421.1,222.9 421.6,222.8 422.1,222.8 422.6,222.9 423.1,223.0 423.6,223.1 424.1,223.2 424.6,223.0 425.1,223.0 425.6,222.9 426.1,222.9 426.6,222.9 427.1,223.0 427.6,223.0 428.1,223.1 428.6,223.1 429.1,223.1 429.6,223.2 430.1,223.3 430.6,223.4 431.1,223.4 431.6,223.3 432.1,223.3 432.6,223.3 433.1,223.4 433.6,223.4 434.1,223.4 434.6,223.3 435.1,223.2 435.6,223.2 436.1,223.2 436.6,223.2 437.1,223.3 437.6,223.2 438.1,223.2 438.6,223.3 439.1,223.3 439.6,223.5 440.1,223.5 440.6,223.4 441.1,223.4 441.6,223.4 442.1,223.4 442.6,223.5 443.1,223.4 443.6,223.3 444.1,223.2 444.6,223.2 445.1,223.4 445.6,223.4 446.1,223.5 446.6,223.5 447.1,223.4 447.6,223.5 448.1,223.5 448.6,223.5 449.1,223.6 449.6,223.5 450.1,223.4 450.6,223.4 451.1,223.4 451.6,223.5 452.1,223.6 452.6,223.7 453.1,223.6 453.6,223.6 454.1,223.6 454.6,223.6 455.1,223.5 455.6,223.4 456.1,223.4 456.6,223.5 457.1,223.6 457.6,223.6 458.1,223.7 458.6,223.6 459.1,223.7 459.6,223.8 460.1,223.7 460.6,223.7 461.1,223.7 461.6,223.7 462.1,223.7 462.6,223.7 463.1,223.8 463.6,223.7 464.1,223.7 464.6,223.7 465.1,223.6 465.6,223.6 466.1,223.6 466.6,223.8 467.1,223.8 467.6,223.9 468.1,223.9 468.6,223.7 469.1,223.7 469.6,223.7 470.1,223.8 470.6,223.9 471.1,224.0 471.6,224.0 472.1,224.0 472.6,223.9 473.1,223.9 473.6,223.8 474.1,224.0 474.6,224.1 475.1,224.0 475.6,224.1 476.1,224.0 476.6,223.9 477.1,224.0 477.6,224.0 478.1,224.0 478.6,224.1 479.1,223.9 479.6,224.0 480.1,224.1 480.6,224.0 481.1,224.2 481.6,224.2 482.1,224.0 482.6,224.0 483.1,224.0 483.6,224.0 484.1,224.2 484.6,224.2 485.1,224.3 485.6,224.4 486.1,224.5 486.6,224.5 487.1,224.4 487.6,224.3 488.1,224.2 488.6,224.1 489.1,224.2 489.6,224.4 490.1,224.3 490.6,224.5 491.1,224.3 491.6,224.2 492.1,224.3 492.6,224.2 493.1,224.3 493.6,224.4 494.1,224.4 494.6,224.5 495.1,224.6 495.6,224.6 496.1,224.5 496.6,224.5 497.1,224.3 497.6,224.2 498.1,224.1 498.6,224.1 499.1,224.1 499.6,224.1 500.1,224.3 500.6,224.3 501.1,224.4 501.6,224.4 502.1,224.4 502.6,224.4 503.1,224.5 503.6,224.5 504.1,224.4 504.6,224.4 505.1,224.5 505.6,224.6 506.1,224.7 506.6,224.7 507.1,224.6 507.6,224.5 508.1,224.4 508.6,224.4 509.1,224.4 509.6,224.4 510.1,224.4 510.6,224.5 511.1,224.5 511.6,224.5 512.1,224.7 512.6,224.6 513.1,224.6 513.6,224.7 514.1,224.6 514.6,224.7 515.1,224.8 515.6,224.8 516.1,224.8 516.6,224.8 517.1,224.8 517.6,224.8 518.1,224.8 518.6,224.7 519.1,224.7 519.6,224.9 520.1,225.0 520.6,225.0 521.1,225.0 521.6,225.0 522.1,224.9 522.6,225.0 523.1,224.9 523.6,224.8 524.1,224.9 524.6,224.8 525.1,224.8 525.6,224.9 526.1,224.9 526.6,225.0 527.1,225.0 527.6,224.9 528.1,224.8 528.6,224.8 529.1,224.7 529.6,224.9 530.1,225.1 530.6,225.1 531.1,225.2 531.6,224.9 532.1,224.8" fill="none" stroke="#3f0a8c" stroke-width="1.35" stroke-linejoin="round" /><polyline points="67.6,173.1 78.8,173.1 78.8,173.5 80.6,173.5 80.6,176.3 82.5,176.3 82.5,181.9 84.3,181.9 84.3,187.5 86.2,187.5 86.2,194.0 88.1,194.0 88.1,199.6 89.9,199.6 89.9,205.2 96.5,205.2 96.5,206.1 99.2,206.1 99.2,209.8 103.9,209.8 103.9,211.7 106.7,211.7 106.7,215.4 117.9,215.4 117.9,216.0 118.4,216.4 118.9,216.4 119.4,216.3 119.9,216.3 120.4,216.3 120.9,216.3 121.4,216.4 121.9,216.2 122.4,216.2 122.9,216.2 123.4,216.1 123.9,216.2 124.4,216.2 124.9,216.2 125.4,216.2 125.9,216.2 126.4,216.1 126.9,215.9 127.4,215.9 127.9,215.8 128.4,215.8 128.9,215.9 129.4,215.8 129.9,215.9 130.4,215.9 130.9,215.9 131.4,215.8 131.9,215.8 132.4,215.9 132.9,215.8 133.4,215.8 133.9,215.9 134.4,215.9 134.9,215.9 135.4,215.9 135.9,216.0 136.4,216.1 136.9,216.2 137.4,216.3 137.9,216.2 138.4,216.3 138.9,216.1 139.4,216.2 139.9,216.3 140.4,216.2 140.9,216.2 141.4,216.2 141.9,216.2 142.4,216.3 142.9,216.4 143.4,216.4 143.9,216.4 144.4,216.3 144.9,216.2 145.4,216.2 145.9,216.3 146.4,216.3 146.9,216.3 147.4,216.3 147.9,216.4 148.4,216.4 148.9,216.5 149.4,216.6 149.9,216.6 150.4,216.6 150.9,216.7 151.4,216.5 151.9,216.4 152.4,216.4 152.9,216.5 153.4,216.7 153.9,216.9 154.4,216.9 154.9,216.9 155.4,216.7 155.9,216.7 156.4,216.6 156.9,216.6 157.4,216.8 157.9,216.9 158.4,217.0 158.9,217.1 159.4,216.9 159.9,216.8 160.4,216.9 160.9,216.9 161.4,217.1 161.9,217.2 162.4,217.2 162.9,217.1 163.4,217.1 163.9,217.3 164.4,217.1 164.9,217.2 165.4,217.2 165.9,217.1 166.4,217.2 166.9,217.2 167.4,217.2 167.9,217.2 168.4,217.1 168.9,217.1 169.4,217.1 169.9,217.1 170.4,217.2 170.9,217.3 171.4,217.3 171.9,217.3 172.4,217.3 172.9,217.4 173.4,217.5 173.9,217.4 174.4,217.4 174.9,217.3 175.4,217.3 175.9,217.5 176.4,217.5 176.9,217.6 177.4,217.6 177.9,217.6 178.4,217.6 178.9,217.4 179.4,217.4 179.9,217.5 180.4,217.6 180.9,217.7 181.4,217.8 181.9,217.7 182.4,217.7 182.9,217.7 183.4,217.9 183.9,218.0 184.4,218.0 184.9,218.0 185.4,218.0 185.9,217.9 186.4,217.9 186.9,217.9 187.4,217.9 187.9,218.0 188.4,218.0 188.9,218.1 189.4,218.1 189.9,218.1 190.4,218.1 190.9,218.0 191.4,218.0 191.9,218.0 192.4,218.0 192.9,218.0 193.4,218.0 193.9,218.1 194.4,218.1 194.9,218.1 195.4,218.0 195.9,218.0 196.4,218.1 196.9,218.1 197.4,218.3 197.9,218.3 198.4,218.2 198.9,218.3 199.4,218.1 199.9,218.1 200.4,218.2 200.9,218.1 201.4,218.3 201.9,218.3 202.4,218.3 202.9,218.4 203.4,218.4 203.9,218.4 204.4,218.5 204.9,218.5 205.4,218.6 205.9,218.6 206.4,218.5 206.9,218.5 207.4,218.5 207.9,218.5 208.4,218.5 208.9,218.6 209.4,218.6 209.9,218.6 210.4,218.5 210.9,218.5 211.4,218.4 211.9,218.3 212.4,218.4 212.9,218.3 213.4,218.4 213.9,218.5 214.4,218.5 214.9,218.7 215.4,218.8 215.9,218.8 216.4,218.8 216.9,218.8 217.4,218.8 217.9,218.7 218.4,218.7 218.9,218.7 219.4,218.7 219.9,218.8 220.4,218.8 220.9,218.8 221.4,218.8 221.9,218.7 222.4,218.8 222.9,218.8 223.4,218.8 223.9,218.8 224.4,218.6 224.9,218.6 225.4,218.7 225.9,218.7 226.4,218.8 226.9,218.9 227.4,218.8 227.9,218.9 228.4,219.0 228.9,218.9 229.4,219.0 229.9,219.0 230.4,219.0 230.9,219.0 231.4,219.0 231.9,219.0 232.4,219.0 232.9,219.3 233.4,219.2 233.9,219.3 234.4,219.3 234.9,219.2 235.4,219.1 235.9,219.2 236.4,219.0 236.9,218.9 237.4,219.0 237.9,219.1 238.4,219.1 238.9,219.3 239.4,219.3 239.9,219.3 240.4,219.4 240.9,219.5 241.4,219.5 241.9,219.4 242.4,219.4 242.9,219.2 243.4,219.2 243.9,219.2 244.4,219.2 244.9,219.3 245.4,219.2 245.9,219.1 246.4,219.0 246.9,219.0 247.4,219.2 247.9,219.3 248.4,219.3 248.9,219.4 249.4,219.5 249.9,219.5 250.4,219.5 250.9,219.5 251.4,219.4 251.9,219.5 252.4,219.5 252.9,219.6 253.4,219.5 253.9,219.5 254.4,219.5 254.9,219.5 255.4,219.6 255.9,219.7 256.4,219.6 256.9,219.6 257.4,219.6 257.9,219.5 258.4,219.5 258.9,219.5 259.4,219.6 259.9,219.6 260.4,219.7 260.9,219.8 261.4,219.7 261.9,219.7 262.4,219.6 262.9,219.6 263.4,219.8 263.9,219.8 264.4,219.9 264.9,219.8 265.4,219.7 265.9,219.8 266.4,219.8 266.9,219.9 267.4,220.0 267.9,220.0 268.4,219.9 268.9,219.9 269.4,219.9 269.9,219.8 270.4,220.0 270.9,220.1 271.4,220.1 271.9,220.1 272.4,219.9 272.9,219.9 273.4,219.9 273.9,220.1 274.4,220.1 274.9,220.2 275.4,220.0 275.9,219.9 276.4,219.9 276.9,220.0 277.4,220.2 277.9,220.1 278.4,220.1 278.9,220.1 279.4,220.1 279.9,220.2 280.4,220.2 280.9,220.2 281.4,220.2 281.9,220.2 282.4,220.2 282.9,220.2 283.4,220.2 283.9,220.2 284.4,220.3 284.9,220.3 285.4,220.3 285.9,220.4 286.4,220.4 286.9,220.3 287.4,220.3 287.9,220.3 288.4,220.3 288.9,220.4 289.4,220.4 289.9,220.5 290.4,220.4 290.9,220.4 291.4,220.4 291.9,220.4 292.4,220.4 292.9,220.5 293.4,220.4 293.9,220.5 294.4,220.4 294.9,220.5 295.4,220.4 295.9,220.5 296.4,220.5 296.9,220.4 297.4,220.5 297.9,220.5 298.4,220.6 298.9,220.6 299.4,220.6 299.9,220.6 300.4,220.6 300.9,220.7 301.4,220.7 301.9,220.7 302.4,220.7 302.9,220.7 303.4,220.8 303.9,220.8 304.4,220.7 304.9,220.8 305.4,220.7 305.9,220.7 306.4,220.6 306.9,220.6 307.4,220.6 307.9,220.6 308.4,220.8 308.9,220.9 309.4,220.9 309.9,220.9 310.4,220.9 310.9,220.9 311.4,220.9 311.9,220.8 312.4,220.8 312.9,220.8 313.4,220.8 313.9,220.8 314.4,220.9 314.9,220.9 315.4,220.9 315.9,221.1 316.4,221.1 316.9,221.1 317.4,221.0 317.9,220.9 318.4,221.0 318.9,220.9 319.4,221.1 319.9,221.1 320.4,220.9 320.9,221.0 321.4,220.9 321.9,221.0 322.4,221.0 322.9,221.1 323.4,221.2 323.9,221.1 324.4,221.2 324.9,221.2 325.4,221.2 325.9,221.2 326.4,221.2 326.9,221.2 327.4,221.1 327.9,221.2 328.4,221.1 328.9,221.2 329.4,221.2 329.9,221.2 330.4,221.3 330.9,221.4 331.4,221.4 331.9,221.5 332.4,221.5 332.9,221.4 333.4,221.4 333.9,221.4 334.4,221.4 334.9,221.5 335.4,221.5 335.9,221.6 336.4,221.6 336.9,221.6 337.4,221.5 337.9,221.5 338.4,221.5 338.9,221.6 339.4,221.7 339.9,221.7 340.4,221.7 340.9,221.8 341.4,221.8 341.9,221.7 342.4,221.8 342.9,221.7 343.4,221.6 343.9,221.7 344.4,221.6 344.9,221.6 345.4,221.6 345.9,221.5 346.4,221.6 346.9,221.6 347.4,221.7 347.9,221.8 348.4,221.8 348.9,221.9 349.4,221.9 349.9,221.8 350.4,221.9 350.9,221.8 351.4,221.7 351.9,221.6 352.4,221.6 352.9,221.8 353.4,221.9 353.9,221.9 354.4,221.9 354.9,221.9 355.4,222.1 355.9,222.0 356.4,222.1 356.9,222.1 357.4,222.0 357.9,222.2 358.4,222.1 358.9,222.1 359.4,222.1 359.9,222.1 360.4,222.1 360.9,222.1 361.4,222.1 361.9,222.0 362.4,222.1 362.9,222.1 363.4,222.2 363.9,222.2 364.4,222.2 364.9,222.1 365.4,222.2 365.9,222.2 366.4,222.3 366.9,222.3 367.4,222.4 367.9,222.3 368.4,222.2 368.9,222.4 369.4,222.3 369.9,222.4 370.4,222.4 370.9,222.3 371.4,222.3 371.9,222.3 372.4,222.2 372.9,222.4 373.4,222.5 373.9,222.4 374.4,222.5 374.9,222.4 375.4,222.5 375.9,222.7 376.4,222.5 376.9,222.5 377.4,222.5 377.9,222.4 378.4,222.4 378.9,222.4 379.4,222.5 379.9,222.6 380.4,222.6 380.9,222.7 381.4,222.5 381.9,222.5 382.4,222.5 382.9,222.4 383.4,222.7 383.9,222.7 384.4,222.7 384.9,222.7 385.4,222.7 385.9,222.7 386.4,222.6 386.9,222.7 387.4,222.7 387.9,222.6 388.4,222.7 388.9,222.7 389.4,222.7 389.9,222.6 390.4,222.5 390.9,222.4 391.4,222.5 391.9,222.6 392.4,222.6 392.9,222.7 393.4,222.6 393.9,222.6 394.4,222.6 394.9,222.6 395.4,222.7 395.9,222.8 396.4,223.0 396.9,223.0 397.4,222.9 397.9,222.9 398.4,222.9 398.9,222.8 399.4,223.0 399.9,223.0 400.4,222.7 400.9,222.8 401.4,222.8 401.9,222.9 402.4,223.1 402.9,223.1 403.4,222.9 403.9,222.8 404.4,222.7 404.9,222.6 405.4,222.7 405.9,222.8 406.4,222.9 406.9,223.0 407.4,223.0 407.9,223.0 408.4,222.9 408.9,222.8 409.4,222.8 409.9,223.0 410.4,223.1 410.9,223.1 411.4,223.2 411.9,223.0 412.4,222.9 412.9,223.0 413.4,223.1 413.9,223.1 414.4,223.2 414.9,223.1 415.4,223.1 415.9,223.0 416.4,223.0 416.9,223.1 417.4,223.2 417.9,223.4 418.4,223.2 418.9,223.3 419.4,223.1 419.9,223.1 420.4,223.2 420.9,223.2 421.4,223.4 421.9,223.4 422.4,223.4 422.9,223.4 423.4,223.2 423.9,223.2 424.4,223.2 424.9,223.2 425.4,223.3 425.9,223.3 426.4,223.3 426.9,223.3 427.4,223.4 427.9,223.5 428.4,223.4 428.9,223.4 429.4,223.3 429.9,223.3 430.4,223.3 430.9,223.3 431.4,223.3 431.9,223.3 432.4,223.3 432.9,223.3 433.4,223.3 433.9,223.4 434.4,223.4 434.9,223.5 435.4,223.5 435.9,223.5 436.4,223.5 436.9,223.5 437.4,223.6 437.9,223.5 438.4,223.6 438.9,223.6 439.4,223.6 439.9,223.6 440.4,223.5 440.9,223.6 441.4,223.7 441.9,223.8 442.4,223.9 442.9,223.8 443.4,223.8 443.9,223.7 444.4,223.7 444.9,223.7 445.4,223.7 445.9,223.7 446.4,223.7 446.9,223.6 447.4,223.5 447.9,223.6 448.4,223.6 448.9,223.7 449.4,223.9 449.9,223.9 450.4,224.0 450.9,223.9 451.4,223.8 451.9,223.7 452.4,223.6 452.9,223.6 453.4,223.7 453.9,223.8 454.4,223.9 454.9,223.9 455.4,223.9 455.9,223.9 456.4,223.9 456.9,223.9 457.4,223.8 457.9,223.8 458.4,224.0 458.9,224.1 459.4,224.2 459.9,224.2 460.4,224.1 460.9,224.0 461.4,224.1 461.9,224.1 462.4,224.1 462.9,224.2 463.4,224.1 463.9,224.1 464.4,224.3 464.9,224.1 465.4,224.1 465.9,224.2 466.4,224.1 466.9,224.0 467.4,224.0 467.9,224.0 468.4,224.0 468.9,224.3 469.4,224.4 469.9,224.4 470.4,224.4 470.9,224.4 471.4,224.4 471.9,224.4 472.4,224.4 472.9,224.3 473.4,224.2 473.9,224.3 474.4,224.2 474.9,224.3 475.4,224.4 475.9,224.3 476.4,224.2 476.9,224.2 477.4,224.2 477.9,224.4 478.4,224.5 478.9,224.4 479.4,224.4 479.9,224.4 480.4,224.4 480.9,224.5 481.4,224.4 481.9,224.4 482.4,224.4 482.9,224.5 483.4,224.6 483.9,224.7 484.4,224.6 484.9,224.7 485.4,224.6 485.9,224.6 486.4,224.7 486.9,224.7 487.4,224.6 487.9,224.4 488.4,224.5 488.9,224.4 489.4,224.5 489.9,224.6 490.4,224.5 490.9,224.5 491.4,224.5 491.9,224.4 492.4,224.5 492.9,224.7 493.4,224.7 493.9,224.7 494.4,224.8 494.9,224.6 495.4,224.7 495.9,224.8 496.4,224.7 496.9,224.9 497.4,224.8 497.9,224.7 498.4,224.7 498.9,224.6 499.4,224.6 499.9,224.7 500.4,224.7 500.9,224.8 501.4,224.8 501.9,224.9 502.4,224.9 502.9,224.9 503.4,224.9 503.9,224.7 504.4,224.7 504.9,224.7 505.4,224.7 505.9,224.9 506.4,224.8 506.9,224.9 507.4,224.9 507.9,224.9 508.4,224.9 508.9,225.0 509.4,225.0 509.9,225.1 510.4,225.1 510.9,225.1 511.4,225.1 511.9,225.1 512.4,225.1 512.9,225.2 513.4,225.1 513.9,225.0 514.4,225.0 514.9,225.0 515.4,225.1 515.9,225.2 516.4,225.2 516.9,225.2 517.4,225.1 517.9,225.1 518.4,225.1 518.9,225.1 519.4,225.2 519.9,225.2 520.4,225.3 520.9,225.3 521.4,225.2 521.9,225.3 522.4,225.3 522.9,225.3 523.4,225.4 523.9,225.2 524.4,225.2 524.9,225.1 525.4,225.2 525.9,225.4 526.4,225.4 526.9,225.4 527.4,225.3 527.9,225.3 528.4,225.1 528.9,225.1 529.4,225.2 529.9,225.2 530.4,225.2 530.9,225.3 531.4,225.3 531.9,225.4" fill="none" stroke="#a561f6" stroke-width="1.35" stroke-linejoin="round" /><polyline points="67.6,178.2 69.6,178.2 71.3,180.0 73.3,180.0 75.0,183.8 77.1,183.8 78.8,187.5 80.8,187.5 82.5,191.2 84.5,191.2 86.2,195.9 88.2,195.9 89.9,198.7 92.0,198.7 93.7,200.5 95.7,200.5 97.4,203.3 99.4,203.3 101.1,206.1 104.2,206.1 106.7,208.0 109.8,208.0 112.3,209.8 115.4,209.8 117.9,211.1 122.0,211.1 125.3,213.0 129.0,213.0 132.0,214.2 132.5,215.0 133.0,215.1 133.5,215.0 134.0,215.1 134.5,215.0 135.0,215.0 135.5,215.0 136.0,215.0 136.5,215.0 137.0,215.1 137.5,215.1 138.0,215.1 138.5,215.2 139.0,215.1 139.5,215.3 140.0,215.3 140.5,215.3 141.0,215.5 141.5,215.4 142.0,215.3 142.5,215.3 143.0,215.3 143.5,215.4 144.0,215.5 144.5,215.6 145.0,215.6 145.5,215.6 146.0,215.7 146.5,215.7 147.0,215.7 147.5,215.7 148.0,215.7 148.5,215.7 149.0,215.8 149.5,215.8 150.0,215.7 150.5,215.6 151.0,215.5 151.5,215.5 152.0,215.7 152.5,215.7 153.0,215.8 153.5,215.8 154.0,215.8 154.5,215.9 155.0,215.8 155.5,215.9 156.0,216.0 156.5,216.0 157.0,216.1 157.5,216.0 158.0,215.9 158.5,216.0 159.0,216.0 159.5,216.0 160.0,215.8 160.5,215.8 161.0,215.9 161.5,216.0 162.0,216.1 162.5,216.1 163.0,216.0 163.5,216.2 164.0,216.1 164.5,216.2 165.0,216.1 165.5,216.1 166.0,216.3 166.5,216.3 167.0,216.3 167.5,216.2 168.0,216.2 168.5,216.1 169.0,216.2 169.5,216.2 170.0,216.2 170.5,216.2 171.0,216.3 171.5,216.3 172.0,216.3 172.5,216.4 173.0,216.3 173.5,216.4 174.0,216.4 174.5,216.5 175.0,216.7 175.5,216.6 176.0,216.7 176.5,216.6 177.0,216.7 177.5,216.6 178.0,216.5 178.5,216.5 179.0,216.5 179.5,216.7 180.0,216.7 180.5,216.8 181.0,216.6 181.5,216.7 182.0,216.7 182.5,216.7 183.0,216.8 183.5,216.9 184.0,216.9 184.5,216.9 185.0,216.9 185.5,216.9 186.0,216.9 186.5,216.9 187.0,217.0 187.5,217.0 188.0,217.1 188.5,217.1 189.0,217.1 189.5,217.1 190.0,217.0 190.5,216.9 191.0,216.8 191.5,216.9 192.0,216.9 192.5,217.0 193.0,217.1 193.5,217.1 194.0,217.2 194.5,217.2 195.0,217.3 195.5,217.5 196.0,217.4 196.5,217.4 197.0,217.3 197.5,217.3 198.0,217.4 198.5,217.5 199.0,217.5 199.5,217.4 200.0,217.4 200.5,217.3 201.0,217.3 201.5,217.4 202.0,217.4 202.5,217.5 203.0,217.5 203.5,217.4 204.0,217.4 204.5,217.3 205.0,217.3 205.5,217.4 206.0,217.5 206.5,217.5 207.0,217.6 207.5,217.5 208.0,217.5 208.5,217.5 209.0,217.5 209.5,217.6 210.0,217.5 210.5,217.6 211.0,217.5 211.5,217.6 212.0,217.6 212.5,217.6 213.0,217.7 213.5,217.8 214.0,217.8 214.5,217.7 215.0,217.8 215.5,217.6 216.0,217.6 216.5,217.7 217.0,217.6 217.5,217.6 218.0,217.8 218.5,217.7 219.0,217.7 219.5,217.7 220.0,217.8 220.5,217.8 221.0,217.9 221.5,218.0 222.0,217.9 222.5,217.9 223.0,217.9 223.5,217.9 224.0,217.8 224.5,217.7 225.0,217.7 225.5,217.7 226.0,217.8 226.5,217.9 227.0,218.0 227.5,218.0 228.0,218.1 228.5,217.9 229.0,218.0 229.5,218.0 230.0,217.9 230.5,218.0 231.0,218.0 231.5,218.0 232.0,218.1 232.5,218.2 233.0,218.2 233.5,218.3 234.0,218.3 234.5,218.2 235.0,218.2 235.5,218.2 236.0,218.2 236.5,218.3 237.0,218.2 237.5,218.2 238.0,218.3 238.5,218.2 239.0,218.3 239.5,218.3 240.0,218.3 240.5,218.3 241.0,218.4 241.5,218.3 242.0,218.3 242.5,218.3 243.0,218.2 243.5,218.2 244.0,218.2 244.5,218.2 245.0,218.2 245.5,218.4 246.0,218.4 246.5,218.5 247.0,218.5 247.5,218.4 248.0,218.4 248.5,218.5 249.0,218.5 249.5,218.6 250.0,218.5 250.5,218.5 251.0,218.4 251.5,218.4 252.0,218.4 252.5,218.5 253.0,218.5 253.5,218.6 254.0,218.6 254.5,218.7 255.0,218.7 255.5,218.7 256.0,218.7 256.5,218.7 257.0,218.7 257.5,218.7 258.0,218.7 258.5,218.7 259.0,218.7 259.5,218.6 260.0,218.7 260.5,218.7 261.0,218.7 261.5,218.8 262.0,218.8 262.5,218.9 263.0,219.0 263.5,219.0 264.0,219.0 264.5,218.9 265.0,218.9 265.5,218.8 266.0,218.9 266.5,219.0 267.0,219.1 267.5,219.2 268.0,219.2 268.5,219.1 269.0,219.1 269.5,219.1 270.0,219.1 270.5,219.1 271.0,219.2 271.5,219.1 272.0,219.1 272.5,219.0 273.0,219.0 273.5,219.1 274.0,218.8 274.5,218.8 275.0,218.9 275.5,218.9 276.0,219.1 276.5,219.1 277.0,219.1 277.5,219.1 278.0,219.2 278.5,219.2 279.0,219.3 279.5,219.2 280.0,219.2 280.5,219.2 281.0,219.1 281.5,219.3 282.0,219.2 282.5,219.2 283.0,219.2 283.5,219.2 284.0,219.3 284.5,219.4 285.0,219.5 285.5,219.5 286.0,219.5 286.5,219.4 287.0,219.4 287.5,219.5 288.0,219.5 288.5,219.4 289.0,219.4 289.5,219.4 290.0,219.4 290.5,219.5 291.0,219.5 291.5,219.6 292.0,219.5 292.5,219.5 293.0,219.5 293.5,219.5 294.0,219.5 294.5,219.6 295.0,219.5 295.5,219.5 296.0,219.6 296.5,219.7 297.0,219.8 297.5,219.8 298.0,219.6 298.5,219.5 299.0,219.5 299.5,219.7 300.0,219.8 300.5,219.9 301.0,219.9 301.5,219.9 302.0,219.9 302.5,219.9 303.0,219.9 303.5,219.9 304.0,219.9 304.5,220.0 305.0,220.0 305.5,220.0 306.0,220.0 306.5,220.0 307.0,220.2 307.5,220.1 308.0,220.2 308.5,220.0 309.0,219.8 309.5,219.8 310.0,219.8 310.5,219.8 311.0,219.9 311.5,219.9 312.0,219.9 312.5,220.0 313.0,220.1 313.5,220.1 314.0,220.1 314.5,220.1 315.0,220.1 315.5,220.1 316.0,220.2 316.5,220.3 317.0,220.2 317.5,220.2 318.0,220.1 318.5,220.1 319.0,220.2 319.5,220.3 320.0,220.2 320.5,220.1 321.0,220.1 321.5,220.0 322.0,220.2 322.5,220.2 323.0,220.3 323.5,220.2 324.0,220.3 324.5,220.4 325.0,220.4 325.5,220.4 326.0,220.3 326.5,220.3 327.0,220.3 327.5,220.3 328.0,220.4 328.5,220.4 329.0,220.4 329.5,220.5 330.0,220.5 330.5,220.6 331.0,220.6 331.5,220.5 332.0,220.6 332.5,220.5 333.0,220.4 333.5,220.3 334.0,220.4 334.5,220.5 335.0,220.5 335.5,220.5 336.0,220.4 336.5,220.4 337.0,220.5 337.5,220.6 338.0,220.7 338.5,220.7 339.0,220.8 339.5,220.8 340.0,220.8 340.5,220.9 341.0,220.8 341.5,220.8 342.0,220.9 342.5,220.8 343.0,220.8 343.5,220.8 344.0,220.7 344.5,220.7 345.0,220.9 345.5,220.9 346.0,221.0 346.5,220.9 347.0,220.8 347.5,220.8 348.0,220.8 348.5,220.8 349.0,221.0 349.5,221.0 350.0,221.1 350.5,221.0 351.0,221.0 351.5,221.0 352.0,220.9 352.5,221.0 353.0,220.9 353.5,220.9 354.0,221.0 354.5,220.9 355.0,221.0 355.5,221.0 356.0,221.0 356.5,221.1 357.0,221.1 357.5,221.3 358.0,221.2 358.5,221.2 359.0,221.2 359.5,221.1 360.0,221.1 360.5,221.1 361.0,221.1 361.5,221.1 362.0,221.0 362.5,221.1 363.0,221.1 363.5,221.2 364.0,221.4 364.5,221.4 365.0,221.3 365.5,221.2 366.0,221.2 366.5,221.2 367.0,221.3 367.5,221.4 368.0,221.4 368.5,221.4 369.0,221.4 369.5,221.4 370.0,221.3 370.5,221.4 371.0,221.5 371.5,221.4 372.0,221.5 372.5,221.4 373.0,221.5 373.5,221.5 374.0,221.6 374.5,221.6 375.0,221.5 375.5,221.5 376.0,221.5 376.5,221.6 377.0,221.7 377.5,221.7 378.0,221.7 378.5,221.7 379.0,221.6 379.5,221.6 380.0,221.6 380.5,221.6 381.0,221.7 381.5,221.6 382.0,221.7 382.5,221.8 383.0,221.7 383.5,221.7 384.0,221.6 384.5,221.6 385.0,221.7 385.5,221.7 386.0,221.6 386.5,221.7 387.0,221.7 387.5,221.6 388.0,221.7 388.5,221.7 389.0,221.7 389.5,221.7 390.0,221.7 390.5,221.7 391.0,221.6 391.5,221.5 392.0,221.6 392.5,221.8 393.0,221.9 393.5,221.9 394.0,221.9 394.5,221.9 395.0,222.0 395.5,222.1 396.0,222.1 396.5,222.1 397.0,222.0 397.5,221.9 398.0,221.8 398.5,221.9 399.0,221.9 399.5,222.0 400.0,222.1 400.5,222.0 401.0,222.0 401.5,222.0 402.0,222.0 402.5,222.0 403.0,222.1 403.5,222.0 404.0,222.0 404.5,221.9 405.0,221.9 405.5,222.1 406.0,222.1 406.5,222.1 407.0,222.1 407.5,222.0 408.0,222.2 408.5,222.2 409.0,222.1 409.5,222.2 410.0,222.2 410.5,222.1 411.0,222.1 411.5,222.1 412.0,222.0 412.5,222.2 413.0,222.2 413.5,222.2 414.0,222.2 414.5,222.1 415.0,222.1 415.5,222.2 416.0,222.1 416.5,222.1 417.0,222.2 417.5,222.2 418.0,222.4 418.5,222.3 419.0,222.2 419.5,222.2 420.0,222.1 420.5,222.3 421.0,222.5 421.5,222.4 422.0,222.5 422.5,222.5 423.0,222.4 423.5,222.3 424.0,222.2 424.5,222.3 425.0,222.3 425.5,222.5 426.0,222.6 426.5,222.5 427.0,222.6 427.5,222.5 428.0,222.5 428.5,222.5 429.0,222.4 429.5,222.4 430.0,222.4 430.5,222.5 431.0,222.6 431.5,222.5 432.0,222.4 432.5,222.4 433.0,222.6 433.5,222.6 434.0,222.6 434.5,222.7 435.0,222.5 435.5,222.5 436.0,222.7 436.5,222.7 437.0,222.7 437.5,222.7 438.0,222.7 438.5,222.7 439.0,222.8 439.5,222.8 440.0,222.7 440.5,222.7 441.0,222.7 441.5,222.7 442.0,222.7 442.5,222.8 443.0,222.7 443.5,222.8 444.0,222.8 444.5,222.7 445.0,222.8 445.5,222.8 446.0,222.8 446.5,222.9 447.0,222.8 447.5,222.7 448.0,222.7 448.5,222.8 449.0,222.8 449.5,223.0 450.0,223.0 450.5,223.0 451.0,222.9 451.5,222.8 452.0,222.8 452.5,222.8 453.0,223.0 453.5,223.0 454.0,223.0 454.5,223.0 455.0,223.0 455.5,223.1 456.0,223.1 456.5,223.1 457.0,223.0 457.5,223.0 458.0,223.0 458.5,223.1 459.0,223.1 459.5,223.1 460.0,223.1 460.5,223.0 461.0,223.1 461.5,223.1 462.0,223.1 462.5,223.2 463.0,223.2 463.5,223.2 464.0,223.2 464.5,223.2 465.0,223.2 465.5,223.1 466.0,223.0 466.5,223.0 467.0,223.1 467.5,223.1 468.0,223.2 468.5,223.3 469.0,223.2 469.5,223.4 470.0,223.4 470.5,223.3 471.0,223.3 471.5,223.3 472.0,223.5 472.5,223.5 473.0,223.5 473.5,223.4 474.0,223.3 474.5,223.3 475.0,223.4 475.5,223.5 476.0,223.5 476.5,223.5 477.0,223.5 477.5,223.4 478.0,223.5 478.5,223.5 479.0,223.6 479.5,223.7 480.0,223.6 480.5,223.5 481.0,223.5 481.5,223.5 482.0,223.6 482.5,223.7 483.0,223.7 483.5,223.6 484.0,223.6 484.5,223.5 485.0,223.5 485.5,223.6 486.0,223.7 486.5,223.7 487.0,223.5 487.5,223.5 488.0,223.5 488.5,223.5 489.0,223.7 489.5,223.8 490.0,223.8 490.5,223.8 491.0,223.7 491.5,223.7 492.0,223.6 492.5,223.6 493.0,223.6 493.5,223.6 494.0,223.8 494.5,223.8 495.0,223.9 495.5,224.0 496.0,223.8 496.5,223.7 497.0,223.6 497.5,223.5 498.0,223.7 498.5,223.9 499.0,224.1 499.5,224.2 500.0,224.2 500.5,224.0 501.0,224.0 501.5,223.9 502.0,224.1 502.5,223.9 503.0,224.0 503.5,224.0 504.0,224.0 504.5,224.1 505.0,224.0 505.5,224.0 506.0,223.9 506.5,224.0 507.0,224.2 507.5,224.3 508.0,224.3 508.5,224.2 509.0,224.1 509.5,224.0 510.0,223.9 510.5,224.0 511.0,224.1 511.5,224.0 512.0,224.1 512.5,224.1 513.0,224.1 513.5,224.1 514.0,224.3 514.5,224.3 515.0,224.2 515.5,224.2 516.0,224.2 516.5,224.1 517.0,224.1 517.5,224.2 518.0,224.2 518.5,224.2 519.0,224.2 519.5,224.1 520.0,224.2 520.5,224.2 521.0,224.1 521.5,224.1 522.0,224.1 522.5,224.2 523.0,224.3 523.5,224.4 524.0,224.4 524.5,224.3 525.0,224.3 525.5,224.3 526.0,224.2 526.5,224.3 527.0,224.4 527.5,224.4 528.0,224.4 528.5,224.4 529.0,224.4 529.5,224.4 530.0,224.4 530.5,224.3 531.0,224.4 531.5,224.4 532.0,224.5" fill="none" stroke="#5fc4fa" stroke-width="1.35" stroke-linejoin="round" /></g>
<rect x="67.8" y="11.5" width="464.5" height="127.5" fill="none" stroke="#c9c9c9" stroke-width="1"/>
<line x1="67.8" y1="11.5" x2="67.8" y2="139.0" stroke="#8c8c8c" stroke-width="1"/>
<rect x="67.8" y="142.5" width="464.5" height="127.3" fill="none" stroke="#c9c9c9" stroke-width="1"/>
<line x1="67.8" y1="142.5" x2="67.8" y2="269.8" stroke="#8c8c8c" stroke-width="1"/>
<line x1="145.2" y1="137.8" x2="145.2" y2="139.0" stroke="#b5b5b5" stroke-width="0.8"/>
<line x1="145.2" y1="142.5" x2="145.2" y2="143.7" stroke="#b5b5b5" stroke-width="0.8"/>
<line x1="222.6" y1="137.8" x2="222.6" y2="139.0" stroke="#b5b5b5" stroke-width="0.8"/>
<line x1="222.6" y1="142.5" x2="222.6" y2="143.7" stroke="#b5b5b5" stroke-width="0.8"/>
<line x1="300.0" y1="137.8" x2="300.0" y2="139.0" stroke="#b5b5b5" stroke-width="0.8"/>
<line x1="300.0" y1="142.5" x2="300.0" y2="143.7" stroke="#b5b5b5" stroke-width="0.8"/>
<line x1="377.5" y1="137.8" x2="377.5" y2="139.0" stroke="#b5b5b5" stroke-width="0.8"/>
<line x1="377.5" y1="142.5" x2="377.5" y2="143.7" stroke="#b5b5b5" stroke-width="0.8"/>
<line x1="454.9" y1="137.8" x2="454.9" y2="139.0" stroke="#b5b5b5" stroke-width="0.8"/>
<line x1="454.9" y1="142.5" x2="454.9" y2="143.7" stroke="#b5b5b5" stroke-width="0.8"/>
<text transform="translate(65.4,133.90) scale(0.935,1)" font-family="DejaVu Sans, Liberation Sans, sans-serif" font-size="10.4" text-anchor="end" fill="#1a1a1a">45</text>
<text transform="translate(65.4,111.64) scale(0.935,1)" font-family="DejaVu Sans, Liberation Sans, sans-serif" font-size="10.4" text-anchor="end" fill="#1a1a1a">50</text>
<text transform="translate(65.4,89.38) scale(0.935,1)" font-family="DejaVu Sans, Liberation Sans, sans-serif" font-size="10.4" text-anchor="end" fill="#1a1a1a">55</text>
<text transform="translate(65.4,67.12) scale(0.935,1)" font-family="DejaVu Sans, Liberation Sans, sans-serif" font-size="10.4" text-anchor="end" fill="#1a1a1a">60</text>
<text transform="translate(65.4,44.86) scale(0.935,1)" font-family="DejaVu Sans, Liberation Sans, sans-serif" font-size="10.4" text-anchor="end" fill="#1a1a1a">65</text>
<text transform="translate(65.4,22.60) scale(0.935,1)" font-family="DejaVu Sans, Liberation Sans, sans-serif" font-size="10.4" text-anchor="end" fill="#1a1a1a">70</text>
<text transform="translate(65.4,271.70) scale(0.935,1)" font-family="DejaVu Sans, Liberation Sans, sans-serif" font-size="10.4" text-anchor="end" fill="#1a1a1a"><tspan textLength="6.5" lengthAdjust="spacingAndGlyphs">−</tspan>200</text>
<text transform="translate(65.4,251.40) scale(0.935,1)" font-family="DejaVu Sans, Liberation Sans, sans-serif" font-size="10.4" text-anchor="end" fill="#1a1a1a"><tspan textLength="6.5" lengthAdjust="spacingAndGlyphs">−</tspan>100</text>
<text transform="translate(65.4,230.50) scale(0.935,1)" font-family="DejaVu Sans, Liberation Sans, sans-serif" font-size="10.4" text-anchor="end" fill="#1a1a1a">0</text>
<text transform="translate(65.4,209.60) scale(0.935,1)" font-family="DejaVu Sans, Liberation Sans, sans-serif" font-size="10.4" text-anchor="end" fill="#1a1a1a">100</text>
<text transform="translate(65.4,188.70) scale(0.935,1)" font-family="DejaVu Sans, Liberation Sans, sans-serif" font-size="10.4" text-anchor="end" fill="#1a1a1a">200</text>
<text transform="translate(65.4,167.80) scale(0.935,1)" font-family="DejaVu Sans, Liberation Sans, sans-serif" font-size="10.4" text-anchor="end" fill="#1a1a1a">300</text>
<text transform="translate(65.4,146.80) scale(0.935,1)" font-family="DejaVu Sans, Liberation Sans, sans-serif" font-size="10.4" text-anchor="end" fill="#1a1a1a">400</text>
<text transform="translate(67.6,279.9) scale(1.000,1)" font-family="DejaVu Sans, Liberation Sans, sans-serif" font-size="10.4" text-anchor="middle" fill="#1a1a1a">0</text>
<text transform="translate(145.0,279.9) scale(1.000,1)" font-family="DejaVu Sans, Liberation Sans, sans-serif" font-size="10.4" text-anchor="middle" fill="#1a1a1a">5</text>
<text transform="translate(222.4,279.9) scale(1.000,1)" font-family="DejaVu Sans, Liberation Sans, sans-serif" font-size="10.4" text-anchor="middle" fill="#1a1a1a">10</text>
<text transform="translate(299.8,279.9) scale(1.000,1)" font-family="DejaVu Sans, Liberation Sans, sans-serif" font-size="10.4" text-anchor="middle" fill="#1a1a1a">15</text>
<text transform="translate(377.3,279.9) scale(1.000,1)" font-family="DejaVu Sans, Liberation Sans, sans-serif" font-size="10.4" text-anchor="middle" fill="#1a1a1a">20</text>
<text transform="translate(454.7,279.9) scale(1.000,1)" font-family="DejaVu Sans, Liberation Sans, sans-serif" font-size="10.4" text-anchor="middle" fill="#1a1a1a">25</text>
<text transform="translate(532.1,279.9) scale(1.000,1)" font-family="DejaVu Sans, Liberation Sans, sans-serif" font-size="10.4" text-anchor="middle" fill="#1a1a1a">30</text>
<text x="299.5" y="291.1" font-family="DejaVu Sans, Liberation Sans, sans-serif" font-size="10.2" text-anchor="middle" fill="#1a1a1a">Time (min)</text>
<text transform="translate(49.3,75.4) rotate(-90)" font-family="DejaVu Sans, Liberation Sans, sans-serif" font-size="10.3" text-anchor="middle" fill="#1a1a1a">Mean Pressure (mmHg)</text>
<text transform="translate(35.5,206.4) rotate(-90)" font-family="DejaVu Sans, Liberation Sans, sans-serif" font-size="10.45" text-anchor="middle" fill="#1a1a1a">Flow Rate (mL/min)</text>
<text x="71.2" y="35.8" font-family="DejaVu Sans, Liberation Sans, sans-serif" font-size="7.6" fill="#333">Target</text>
<rect x="416" y="98" width="115" height="40.4" fill="#fff"/>
<rect x="420.7" y="103.5" width="20.0" height="4.7" fill="#e8005f"/><text x="444.3" y="108.6" font-family="DejaVu Sans, Liberation Sans, sans-serif" font-size="7.85" fill="#1a1a1a">DFL 1</text>
<rect x="420.7" y="114.4" width="20.0" height="4.7" fill="#0f7f7a"/><text x="444.3" y="119.5" font-family="DejaVu Sans, Liberation Sans, sans-serif" font-size="7.85" fill="#1a1a1a">DFL 2</text>
<rect x="420.7" y="125.4" width="20.0" height="4.7" fill="#3f0a8c"/><text x="444.3" y="130.6" font-family="DejaVu Sans, Liberation Sans, sans-serif" font-size="7.85" fill="#1a1a1a">DFL 3</text>
<rect x="479.0" y="103.5" width="20.0" height="4.7" fill="#a561f6"/><text x="502.3" y="108.6" font-family="DejaVu Sans, Liberation Sans, sans-serif" font-size="7.85" fill="#1a1a1a">DFL 4</text>
<rect x="479.0" y="114.4" width="20.0" height="4.7" fill="#5fc4fa"/><text x="502.3" y="119.5" font-family="DejaVu Sans, Liberation Sans, sans-serif" font-size="7.85" fill="#1a1a1a">DFL 5</text>
<rect x="409" y="143.1" width="122" height="39" fill="#fff"/>
<rect x="413.5" y="150.3" width="20.0" height="4.7" fill="#e8005f"/><text x="436.9" y="155.5" font-family="DejaVu Sans, Liberation Sans, sans-serif" font-size="7.85" fill="#1a1a1a">DFL 1</text>
<rect x="413.5" y="161.2" width="20.0" height="4.7" fill="#0f7f7a"/><text x="436.9" y="166.3" font-family="DejaVu Sans, Liberation Sans, sans-serif" font-size="7.85" fill="#1a1a1a">DFL 2</text>
<rect x="413.5" y="172.0" width="20.0" height="4.7" fill="#3f0a8c"/><text x="436.9" y="177.2" font-family="DejaVu Sans, Liberation Sans, sans-serif" font-size="7.85" fill="#1a1a1a">DFL 3</text>
<rect x="471.5" y="150.3" width="20.0" height="4.7" fill="#a561f6"/><text x="495.2" y="155.5" font-family="DejaVu Sans, Liberation Sans, sans-serif" font-size="7.85" fill="#1a1a1a">DFL 4</text>
<rect x="471.5" y="161.2" width="20.0" height="4.7" fill="#5fc4fa"/><text x="495.2" y="166.3" font-family="DejaVu Sans, Liberation Sans, sans-serif" font-size="7.85" fill="#1a1a1a">DFL 5</text>
<rect x="471.5" y="172.0" width="20.0" height="4.7" fill="#000"/><text x="495.2" y="177.2" font-family="DejaVu Sans, Liberation Sans, sans-serif" font-size="7.85" fill="#1a1a1a">Outflow</text>
<text x="4.3" y="19.6" font-family="Liberation Sans, Arial, sans-serif" font-weight="bold" font-size="14.7" fill="#111">(A)</text>
<text x="4.6" y="311.8" font-family="Liberation Sans, Arial, sans-serif" font-weight="bold" font-size="14.7" fill="#111">(B)</text>
<text x="280.8" y="312.7" font-family="Liberation Sans, Arial, sans-serif" font-weight="bold" font-size="15.2" fill="#111">(C)</text>
<line x1="64.6" y1="399.2" x2="259.6" y2="399.2" stroke="#8c8c8c" stroke-width="1.0" stroke-dasharray="1.2 1.6"/>
<line x1="64.6" y1="356.0" x2="259.6" y2="356.0" stroke="#8c8c8c" stroke-width="1.0" stroke-dasharray="1.2 1.6"/>
<rect x="76.95" y="430.20" width="22.70" height="12.20" fill="#a7a7a9" stroke="#0a0a0a" stroke-width="1.6"/>
<rect x="113.35" y="430.20" width="22.70" height="12.20" fill="#fff" stroke="#0a0a0a" stroke-width="1.6"/>
<clipPath id="c1613"><rect x="149.95" y="418.80" width="22.70" height="23.60"/></clipPath>
<rect x="149.95" y="418.80" width="22.70" height="23.60" fill="#fff"/>
<path d="M128.15 442.40L147.95 418.80M130.45 442.40L150.25 418.80M132.75 442.40L152.55 418.80M135.05 442.40L154.85 418.80M137.35 442.40L157.15 418.80M139.65 442.40L159.45 418.80M141.95 442.40L161.75 418.80M144.25 442.40L164.05 418.80M146.55 442.40L166.35 418.80M148.85 442.40L168.65 418.80M151.15 442.40L170.95 418.80M153.45 442.40L173.25 418.80M155.75 442.40L175.55 418.80M158.05 442.40L177.85 418.80M160.35 442.40L180.15 418.80M162.65 442.40L182.45 418.80M164.95 442.40L184.75 418.80M167.25 442.40L187.05 418.80M169.55 442.40L189.35 418.80M171.85 442.40L191.65 418.80M174.15 442.40L193.95 418.80M176.45 442.40L196.25 418.80M178.75 442.40L198.55 418.80M181.05 442.40L200.85 418.80M183.35 442.40L203.15 418.80M185.65 442.40L205.45 418.80M187.95 442.40L207.75 418.80M190.25 442.40L210.05 418.80M192.55 442.40L212.35 418.80" stroke="#1a1a1a" stroke-width="0.74" fill="none" clip-path="url(#c1613)"/>
<rect x="149.95" y="418.80" width="22.70" height="23.60" fill="none" stroke="#0a0a0a" stroke-width="1.6"/>
<rect x="186.85" y="346.50" width="22.70" height="95.90" fill="#666666" stroke="#0a0a0a" stroke-width="1.6"/>
<clipPath id="c2347"><rect x="223.35" y="354.30" width="22.70" height="88.10"/></clipPath>
<rect x="223.35" y="354.30" width="22.70" height="88.10" fill="#fff"/>
<path d="M142.02 354.30L221.35 442.40M144.52 354.30L223.85 442.40M147.02 354.30L226.35 442.40M149.52 354.30L228.85 442.40M152.02 354.30L231.35 442.40M154.52 354.30L233.85 442.40M157.02 354.30L236.35 442.40M159.52 354.30L238.85 442.40M162.02 354.30L241.35 442.40M164.52 354.30L243.85 442.40M167.02 354.30L246.35 442.40M169.52 354.30L248.85 442.40M172.02 354.30L251.35 442.40M174.52 354.30L253.85 442.40M177.02 354.30L256.35 442.40M179.52 354.30L258.85 442.40M182.02 354.30L261.35 442.40M184.52 354.30L263.85 442.40M187.02 354.30L266.35 442.40M189.52 354.30L268.85 442.40M192.02 354.30L271.35 442.40M194.52 354.30L273.85 442.40M197.02 354.30L276.35 442.40M199.52 354.30L278.85 442.40M202.02 354.30L281.35 442.40M204.52 354.30L283.85 442.40M207.02 354.30L286.35 442.40M209.52 354.30L288.85 442.40M212.02 354.30L291.35 442.40M214.52 354.30L293.85 442.40M217.02 354.30L296.35 442.40M219.52 354.30L298.85 442.40M222.02 354.30L301.35 442.40M224.52 354.30L303.85 442.40M227.02 354.30L306.35 442.40M229.52 354.30L308.85 442.40M232.02 354.30L311.35 442.40M234.52 354.30L313.85 442.40M237.02 354.30L316.35 442.40M239.52 354.30L318.85 442.40M242.02 354.30L321.35 442.40M244.52 354.30L323.85 442.40M247.02 354.30L326.35 442.40M249.52 354.30L328.85 442.40M252.02 354.30L331.35 442.40M254.52 354.30L333.85 442.40M257.02 354.30L336.35 442.40M259.52 354.30L338.85 442.40M262.02 354.30L341.35 442.40M264.52 354.30L343.85 442.40M267.02 354.30L346.35 442.40M269.52 354.30L348.85 442.40M272.02 354.30L351.35 442.40M274.52 354.30L353.85 442.40M277.02 354.30L356.35 442.40M279.52 354.30L358.85 442.40M282.02 354.30L361.35 442.40M284.52 354.30L363.85 442.40M287.02 354.30L366.35 442.40M289.52 354.30L368.85 442.40M292.02 354.30L371.35 442.40M294.52 354.30L373.85 442.40M297.02 354.30L376.35 442.40M299.52 354.30L378.85 442.40M302.02 354.30L381.35 442.40M304.52 354.30L383.85 442.40M307.02 354.30L386.35 442.40M309.52 354.30L388.85 442.40M312.02 354.30L391.35 442.40M314.52 354.30L393.85 442.40M317.02 354.30L396.35 442.40M319.52 354.30L398.85 442.40M322.02 354.30L401.35 442.40M324.52 354.30L403.85 442.40M327.02 354.30L406.35 442.40" stroke="#1a1a1a" stroke-width="0.76" fill="none" clip-path="url(#c2347)"/>
<rect x="223.35" y="354.30" width="22.70" height="88.10" fill="none" stroke="#0a0a0a" stroke-width="1.6"/>
<path d="M63.6 312.6 H259.6 V442.4 H63.6 Z" fill="none" stroke="#0a0a0a" stroke-width="1.3"/>
<path d="M88.3 424.5 V433.4 M82.7 424.5 H93.9 M82.7 433.4 H93.9" stroke="#0a0a0a" stroke-width="1.2" fill="none"/>
<circle cx="82.7" cy="425.3" r="2.55" fill="#0a0a0a"/>
<circle cx="92.9" cy="429.1" r="2.55" fill="#0a0a0a"/>
<circle cx="83.3" cy="432.9" r="2.55" fill="#0a0a0a"/>
<line x1="88.3" y1="442.4" x2="88.3" y2="448.0" stroke="#0a0a0a" stroke-width="1.3"/>
<path d="M124.7 425.3 V432.9 M119.1 425.3 H130.3 M119.1 432.9 H130.3" stroke="#0a0a0a" stroke-width="1.2" fill="none"/>
<circle cx="119.4" cy="425.8" r="2.55" fill="#0a0a0a"/>
<circle cx="129.6" cy="430.1" r="2.55" fill="#0a0a0a"/>
<circle cx="120.2" cy="432.2" r="2.55" fill="#0a0a0a"/>
<line x1="124.7" y1="442.4" x2="124.7" y2="448.0" stroke="#0a0a0a" stroke-width="1.3"/>
<path d="M161.3 410.5 V424.5 M155.7 410.5 H166.9 M155.7 424.5 H166.9" stroke="#0a0a0a" stroke-width="1.2" fill="none"/>
<circle cx="161.4" cy="410.0" r="2.55" fill="#0a0a0a"/>
<circle cx="166.5" cy="418.9" r="2.55" fill="#0a0a0a"/>
<circle cx="155.8" cy="423.8" r="2.55" fill="#0a0a0a"/>
<line x1="161.3" y1="442.4" x2="161.3" y2="448.0" stroke="#0a0a0a" stroke-width="1.3"/>
<path d="M198.2 335.8 V355.2 M192.6 335.8 H203.8 M192.6 355.2 H203.8" stroke="#0a0a0a" stroke-width="1.2" fill="none"/>
<circle cx="192.8" cy="338.3" r="2.55" fill="#0a0a0a"/>
<circle cx="203.0" cy="341.6" r="2.55" fill="#0a0a0a"/>
<circle cx="197.7" cy="356.6" r="2.55" fill="#0a0a0a"/>
<line x1="198.2" y1="442.4" x2="198.2" y2="448.0" stroke="#0a0a0a" stroke-width="1.3"/>
<path d="M234.7 338.0 V367.5 M229.1 338.0 H240.3 M229.1 367.5 H240.3" stroke="#0a0a0a" stroke-width="1.2" fill="none"/>
<circle cx="234.5" cy="335.8" r="2.55" fill="#0a0a0a"/>
<circle cx="229.5" cy="361.3" r="2.55" fill="#0a0a0a"/>
<circle cx="239.3" cy="361.0" r="2.55" fill="#0a0a0a"/>
<line x1="234.7" y1="442.4" x2="234.7" y2="448.0" stroke="#0a0a0a" stroke-width="1.3"/>
<line x1="58.0" y1="442.4" x2="63.6" y2="442.4" stroke="#0a0a0a" stroke-width="1.3"/>
<text x="56.6" y="445.3" font-family="Liberation Sans, Arial, sans-serif" font-weight="bold" font-size="9.6" text-anchor="end" fill="#111">0</text>
<line x1="58.0" y1="399.2" x2="63.6" y2="399.2" stroke="#0a0a0a" stroke-width="1.3"/>
<text x="56.6" y="402.1" font-family="Liberation Sans, Arial, sans-serif" font-weight="bold" font-size="9.6" text-anchor="end" fill="#111">20</text>
<line x1="58.0" y1="356.0" x2="63.6" y2="356.0" stroke="#0a0a0a" stroke-width="1.3"/>
<text x="56.6" y="358.9" font-family="Liberation Sans, Arial, sans-serif" font-weight="bold" font-size="9.6" text-anchor="end" fill="#111">40</text>
<line x1="58.0" y1="312.6" x2="63.6" y2="312.6" stroke="#0a0a0a" stroke-width="1.3"/>
<text x="56.6" y="315.5" font-family="Liberation Sans, Arial, sans-serif" font-weight="bold" font-size="9.6" text-anchor="end" fill="#111">60</text>
<text x="88.3" y="459.0" font-family="Liberation Sans, Arial, sans-serif" font-weight="bold" font-size="10.05" text-anchor="middle" fill="#111">DFL 1</text>
<text x="124.7" y="459.0" font-family="Liberation Sans, Arial, sans-serif" font-weight="bold" font-size="10.05" text-anchor="middle" fill="#111">DFL 2</text>
<text x="161.3" y="459.0" font-family="Liberation Sans, Arial, sans-serif" font-weight="bold" font-size="10.05" text-anchor="middle" fill="#111">DFL 3</text>
<text x="198.2" y="459.0" font-family="Liberation Sans, Arial, sans-serif" font-weight="bold" font-size="10.05" text-anchor="middle" fill="#111">DFL 4</text>
<text x="234.7" y="459.0" font-family="Liberation Sans, Arial, sans-serif" font-weight="bold" font-size="10.05" text-anchor="middle" fill="#111">DFL 5</text>
<text x="161.5" y="475.6" font-family="Liberation Sans, Arial, sans-serif" font-weight="bold" font-size="10.7" text-anchor="middle" fill="#111">Controllers</text>
<text transform="translate(39.9,377.5) rotate(-90)" font-family="Liberation Sans, Arial, sans-serif" font-weight="bold" font-size="10.7" text-anchor="middle" fill="#111" xml:space="preserve">Percent Rise Time</text>
<line x1="348.6" y1="399.8" x2="544.2" y2="399.8" stroke="#8c8c8c" stroke-width="1.0" stroke-dasharray="1.2 1.6"/>
<line x1="348.6" y1="356.5" x2="544.2" y2="356.5" stroke="#8c8c8c" stroke-width="1.0" stroke-dasharray="1.2 1.6"/>
<rect x="361.05" y="364.80" width="22.70" height="78.30" fill="#a7a7a9" stroke="#0a0a0a" stroke-width="1.6"/>
<rect x="397.45" y="364.80" width="22.70" height="78.30" fill="#fff" stroke="#0a0a0a" stroke-width="1.6"/>
<clipPath id="c4453"><rect x="433.95" y="373.80" width="22.70" height="69.30"/></clipPath>
<rect x="433.95" y="373.80" width="22.70" height="69.30" fill="#fff"/>
<path d="M373.80 443.10L431.95 373.80M376.10 443.10L434.25 373.80M378.40 443.10L436.55 373.80M380.70 443.10L438.85 373.80M383.00 443.10L441.15 373.80M385.30 443.10L443.45 373.80M387.60 443.10L445.75 373.80M389.90 443.10L448.05 373.80M392.20 443.10L450.35 373.80M394.50 443.10L452.65 373.80M396.80 443.10L454.95 373.80M399.10 443.10L457.25 373.80M401.40 443.10L459.55 373.80M403.70 443.10L461.85 373.80M406.00 443.10L464.15 373.80M408.30 443.10L466.45 373.80M410.60 443.10L468.75 373.80M412.90 443.10L471.05 373.80M415.20 443.10L473.35 373.80M417.50 443.10L475.65 373.80M419.80 443.10L477.95 373.80M422.10 443.10L480.25 373.80M424.40 443.10L482.55 373.80M426.70 443.10L484.85 373.80M429.00 443.10L487.15 373.80M431.30 443.10L489.45 373.80M433.60 443.10L491.75 373.80M435.90 443.10L494.05 373.80M438.20 443.10L496.35 373.80M440.50 443.10L498.65 373.80M442.80 443.10L500.95 373.80M445.10 443.10L503.25 373.80M447.40 443.10L505.55 373.80M449.70 443.10L507.85 373.80M452.00 443.10L510.15 373.80M454.30 443.10L512.45 373.80M456.60 443.10L514.75 373.80M458.90 443.10L517.05 373.80M461.20 443.10L519.35 373.80M463.50 443.10L521.65 373.80M465.80 443.10L523.95 373.80M468.10 443.10L526.25 373.80M470.40 443.10L528.55 373.80M472.70 443.10L530.85 373.80M475.00 443.10L533.15 373.80M477.30 443.10L535.45 373.80M479.60 443.10L537.75 373.80M481.90 443.10L540.05 373.80M484.20 443.10L542.35 373.80M486.50 443.10L544.65 373.80M488.80 443.10L546.95 373.80M491.10 443.10L549.25 373.80M493.40 443.10L551.55 373.80M495.70 443.10L553.85 373.80M498.00 443.10L556.15 373.80M500.30 443.10L558.45 373.80M502.60 443.10L560.75 373.80M504.90 443.10L563.05 373.80M507.20 443.10L565.35 373.80M509.50 443.10L567.65 373.80M511.80 443.10L569.95 373.80M514.10 443.10L572.25 373.80M516.40 443.10L574.55 373.80" stroke="#1a1a1a" stroke-width="0.74" fill="none" clip-path="url(#c4453)"/>
<rect x="433.95" y="373.80" width="22.70" height="69.30" fill="none" stroke="#0a0a0a" stroke-width="1.6"/>
<rect x="471.15" y="423.50" width="22.70" height="19.60" fill="#666666" stroke="#0a0a0a" stroke-width="1.6"/>
<clipPath id="c5195"><rect x="508.15" y="415.30" width="22.70" height="27.80"/></clipPath>
<rect x="508.15" y="415.30" width="22.70" height="27.80" fill="#fff"/>
<path d="M481.12 415.30L506.15 443.10M483.62 415.30L508.65 443.10M486.12 415.30L511.15 443.10M488.62 415.30L513.65 443.10M491.12 415.30L516.15 443.10M493.62 415.30L518.65 443.10M496.12 415.30L521.15 443.10M498.62 415.30L523.65 443.10M501.12 415.30L526.15 443.10M503.62 415.30L528.65 443.10M506.12 415.30L531.15 443.10M508.62 415.30L533.65 443.10M511.12 415.30L536.15 443.10M513.62 415.30L538.65 443.10M516.12 415.30L541.15 443.10M518.62 415.30L543.65 443.10M521.12 415.30L546.15 443.10M523.62 415.30L548.65 443.10M526.12 415.30L551.15 443.10M528.62 415.30L553.65 443.10M531.12 415.30L556.15 443.10M533.62 415.30L558.65 443.10M536.12 415.30L561.15 443.10M538.62 415.30L563.65 443.10M541.12 415.30L566.15 443.10M543.62 415.30L568.65 443.10M546.12 415.30L571.15 443.10M548.62 415.30L573.65 443.10M551.12 415.30L576.15 443.10M553.62 415.30L578.65 443.10M556.12 415.30L581.15 443.10" stroke="#1a1a1a" stroke-width="0.76" fill="none" clip-path="url(#c5195)"/>
<rect x="508.15" y="415.30" width="22.70" height="27.80" fill="none" stroke="#0a0a0a" stroke-width="1.6"/>
<path d="M347.6 313.2 H544.2 V443.1 H347.6 Z" fill="none" stroke="#0a0a0a" stroke-width="1.3"/>
<path d="M372.4 360.4 V364.7 M366.8 360.4 H378.0 M366.8 364.7 H378.0" stroke="#0a0a0a" stroke-width="1.2" fill="none"/>
<circle cx="362.9" cy="364.7" r="2.55" fill="#0a0a0a"/>
<circle cx="372.3" cy="360.9" r="2.55" fill="#0a0a0a"/>
<circle cx="381.5" cy="362.9" r="2.55" fill="#0a0a0a"/>
<line x1="372.4" y1="443.1" x2="372.4" y2="448.7" stroke="#0a0a0a" stroke-width="1.3"/>
<path d="M408.8 360.4 V364.7 M403.2 360.4 H414.4 M403.2 364.7 H414.4" stroke="#0a0a0a" stroke-width="1.2" fill="none"/>
<circle cx="399.3" cy="364.7" r="2.55" fill="#0a0a0a"/>
<circle cx="408.7" cy="360.9" r="2.55" fill="#0a0a0a"/>
<circle cx="418.4" cy="362.9" r="2.55" fill="#0a0a0a"/>
<line x1="408.8" y1="443.1" x2="408.8" y2="448.7" stroke="#0a0a0a" stroke-width="1.3"/>
<path d="M445.3 368.8 V375.6 M439.7 368.8 H450.9 M439.7 375.6 H450.9" stroke="#0a0a0a" stroke-width="1.2" fill="none"/>
<circle cx="441.0" cy="368.5" r="2.55" fill="#0a0a0a"/>
<circle cx="450.7" cy="372.3" r="2.55" fill="#0a0a0a"/>
<circle cx="441.0" cy="376.4" r="2.55" fill="#0a0a0a"/>
<line x1="445.3" y1="443.1" x2="445.3" y2="448.7" stroke="#0a0a0a" stroke-width="1.3"/>
<path d="M482.5 419.5 V425.2 M476.9 419.5 H488.1 M476.9 425.2 H488.1" stroke="#0a0a0a" stroke-width="1.2" fill="none"/>
<circle cx="477.1" cy="419.5" r="2.55" fill="#0a0a0a"/>
<circle cx="487.4" cy="420.7" r="2.55" fill="#0a0a0a"/>
<circle cx="477.1" cy="425.7" r="2.55" fill="#0a0a0a"/>
<line x1="482.5" y1="443.1" x2="482.5" y2="448.7" stroke="#0a0a0a" stroke-width="1.3"/>
<path d="M519.5 409.6 V419.9 M513.9 409.6 H525.1 M513.9 419.9 H525.1" stroke="#0a0a0a" stroke-width="1.2" fill="none"/>
<circle cx="513.9" cy="410.2" r="2.55" fill="#0a0a0a"/>
<circle cx="524.3" cy="411.9" r="2.55" fill="#0a0a0a"/>
<circle cx="519.4" cy="419.5" r="2.55" fill="#0a0a0a"/>
<line x1="519.5" y1="443.1" x2="519.5" y2="448.7" stroke="#0a0a0a" stroke-width="1.3"/>
<line x1="342.0" y1="443.1" x2="347.6" y2="443.1" stroke="#0a0a0a" stroke-width="1.3"/>
<text x="340.6" y="446.0" font-family="Liberation Sans, Arial, sans-serif" font-weight="bold" font-size="9.6" text-anchor="end" fill="#111">0</text>
<line x1="342.0" y1="399.8" x2="347.6" y2="399.8" stroke="#0a0a0a" stroke-width="1.3"/>
<text x="340.6" y="402.7" font-family="Liberation Sans, Arial, sans-serif" font-weight="bold" font-size="9.6" text-anchor="end" fill="#111">50</text>
<line x1="342.0" y1="356.5" x2="347.6" y2="356.5" stroke="#0a0a0a" stroke-width="1.3"/>
<text x="340.6" y="359.4" font-family="Liberation Sans, Arial, sans-serif" font-weight="bold" font-size="9.6" text-anchor="end" fill="#111">100</text>
<line x1="342.0" y1="313.2" x2="347.6" y2="313.2" stroke="#0a0a0a" stroke-width="1.3"/>
<text x="340.6" y="316.1" font-family="Liberation Sans, Arial, sans-serif" font-weight="bold" font-size="9.6" text-anchor="end" fill="#111">150</text>
<text x="372.4" y="459.0" font-family="Liberation Sans, Arial, sans-serif" font-weight="bold" font-size="10.05" text-anchor="middle" fill="#111">DFL 1</text>
<text x="408.8" y="459.0" font-family="Liberation Sans, Arial, sans-serif" font-weight="bold" font-size="10.05" text-anchor="middle" fill="#111">DFL 2</text>
<text x="445.3" y="459.0" font-family="Liberation Sans, Arial, sans-serif" font-weight="bold" font-size="10.05" text-anchor="middle" fill="#111">DFL 3</text>
<text x="482.5" y="459.0" font-family="Liberation Sans, Arial, sans-serif" font-weight="bold" font-size="10.05" text-anchor="middle" fill="#111">DFL 4</text>
<text x="519.5" y="459.0" font-family="Liberation Sans, Arial, sans-serif" font-weight="bold" font-size="10.05" text-anchor="middle" fill="#111">DFL 5</text>
<text x="445.5" y="475.6" font-family="Liberation Sans, Arial, sans-serif" font-weight="bold" font-size="10.7" text-anchor="middle" fill="#111">Controllers</text>
<text transform="translate(316.3,378.5) rotate(-90)" font-family="Liberation Sans, Arial, sans-serif" font-weight="bold" font-size="10.7" text-anchor="middle" fill="#111" xml:space="preserve">%  Effectiveness</text>
</svg>
</body></html>
